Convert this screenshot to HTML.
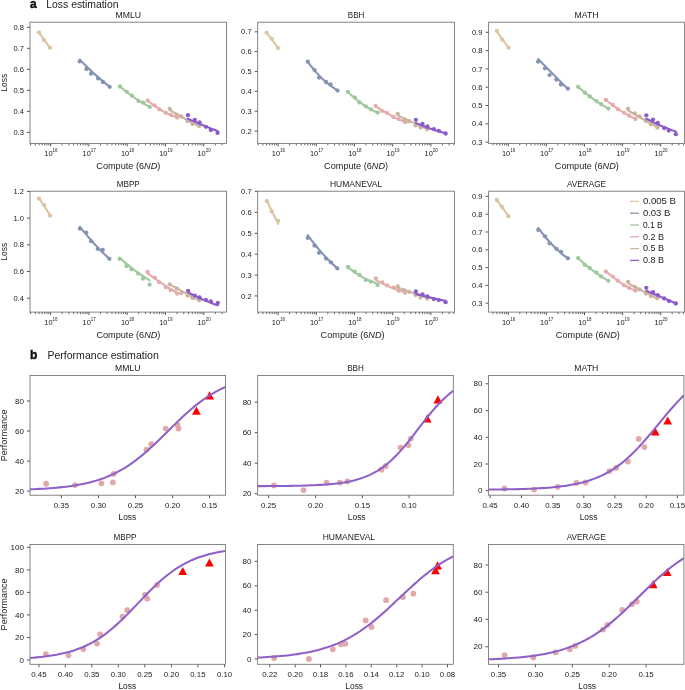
<!DOCTYPE html><html><head><meta charset="utf-8"><style>html,body{margin:0;padding:0;background:#fff;width:685px;height:690px;overflow:hidden}svg{display:block;will-change:transform;filter:blur(0.3px)}text{font-family:"Liberation Sans", sans-serif}</style></head><body>
<svg width="685" height="690" viewBox="0 0 685 690">
<rect width="685" height="690" fill="#fff"/>
<text x="29.9" y="8" font-size="12" text-anchor="start" font-weight="bold" font-style="normal" fill="#111" stroke="#111" stroke-width="0.45">a</text>
<text x="46.3" y="8" font-size="10.3" text-anchor="start" font-weight="normal" font-style="normal" fill="#222" textLength="72.2" lengthAdjust="spacingAndGlyphs">Loss estimation</text>
<text x="29.9" y="359" font-size="12" text-anchor="start" font-weight="bold" font-style="normal" fill="#111" stroke="#111" stroke-width="0.45">b</text>
<text x="47.4" y="359" font-size="10.3" text-anchor="start" font-weight="normal" font-style="normal" fill="#222" textLength="111.4" lengthAdjust="spacingAndGlyphs">Performance estimation</text>
<text x="128.25" y="17.8" font-size="9" text-anchor="middle" font-weight="normal" font-style="normal" fill="#222" textLength="25.4" lengthAdjust="spacingAndGlyphs">MMLU</text>
<line x1="27" y1="27.3" x2="30" y2="27.3" stroke="#444" stroke-width="0.9"/>
<text x="23.9" y="29.95" font-size="8.05" text-anchor="end" font-weight="normal" font-style="normal" fill="#222" textLength="10.49" lengthAdjust="spacingAndGlyphs">0.8</text>
<line x1="27" y1="48.3" x2="30" y2="48.3" stroke="#444" stroke-width="0.9"/>
<text x="23.9" y="50.95" font-size="8.05" text-anchor="end" font-weight="normal" font-style="normal" fill="#222" textLength="10.49" lengthAdjust="spacingAndGlyphs">0.7</text>
<line x1="27" y1="69.3" x2="30" y2="69.3" stroke="#444" stroke-width="0.9"/>
<text x="23.9" y="71.95" font-size="8.05" text-anchor="end" font-weight="normal" font-style="normal" fill="#222" textLength="10.49" lengthAdjust="spacingAndGlyphs">0.6</text>
<line x1="27" y1="90.3" x2="30" y2="90.3" stroke="#444" stroke-width="0.9"/>
<text x="23.9" y="92.95" font-size="8.05" text-anchor="end" font-weight="normal" font-style="normal" fill="#222" textLength="10.49" lengthAdjust="spacingAndGlyphs">0.5</text>
<line x1="27" y1="111.4" x2="30" y2="111.4" stroke="#444" stroke-width="0.9"/>
<text x="23.9" y="114.05" font-size="8.05" text-anchor="end" font-weight="normal" font-style="normal" fill="#222" textLength="10.49" lengthAdjust="spacingAndGlyphs">0.4</text>
<line x1="27" y1="132.4" x2="30" y2="132.4" stroke="#444" stroke-width="0.9"/>
<text x="23.9" y="135.05" font-size="8.05" text-anchor="end" font-weight="normal" font-style="normal" fill="#222" textLength="10.49" lengthAdjust="spacingAndGlyphs">0.3</text>
<line x1="30.57" y1="143.4" x2="30.57" y2="145.4" stroke="#444" stroke-width="0.85"/>
<line x1="35.36" y1="143.4" x2="35.36" y2="145.4" stroke="#444" stroke-width="0.85"/>
<line x1="39.07" y1="143.4" x2="39.07" y2="145.4" stroke="#444" stroke-width="0.85"/>
<line x1="42.1" y1="143.4" x2="42.1" y2="145.4" stroke="#444" stroke-width="0.85"/>
<line x1="44.67" y1="143.4" x2="44.67" y2="145.4" stroke="#444" stroke-width="0.85"/>
<line x1="46.89" y1="143.4" x2="46.89" y2="145.4" stroke="#444" stroke-width="0.85"/>
<line x1="48.85" y1="143.4" x2="48.85" y2="145.4" stroke="#444" stroke-width="0.85"/>
<line x1="50.6" y1="143.4" x2="50.6" y2="146.4" stroke="#444" stroke-width="0.9"/>
<text x="50.9" y="155.8" font-size="7.4" text-anchor="middle" fill="#222">10<tspan font-size="4.5" dy="-3.4">16</tspan></text>
<line x1="62.13" y1="143.4" x2="62.13" y2="145.4" stroke="#444" stroke-width="0.85"/>
<line x1="68.87" y1="143.4" x2="68.87" y2="145.4" stroke="#444" stroke-width="0.85"/>
<line x1="73.66" y1="143.4" x2="73.66" y2="145.4" stroke="#444" stroke-width="0.85"/>
<line x1="77.37" y1="143.4" x2="77.37" y2="145.4" stroke="#444" stroke-width="0.85"/>
<line x1="80.4" y1="143.4" x2="80.4" y2="145.4" stroke="#444" stroke-width="0.85"/>
<line x1="82.97" y1="143.4" x2="82.97" y2="145.4" stroke="#444" stroke-width="0.85"/>
<line x1="85.19" y1="143.4" x2="85.19" y2="145.4" stroke="#444" stroke-width="0.85"/>
<line x1="87.15" y1="143.4" x2="87.15" y2="145.4" stroke="#444" stroke-width="0.85"/>
<line x1="88.9" y1="143.4" x2="88.9" y2="146.4" stroke="#444" stroke-width="0.9"/>
<text x="89.2" y="155.8" font-size="7.4" text-anchor="middle" fill="#222">10<tspan font-size="4.5" dy="-3.4">17</tspan></text>
<line x1="100.43" y1="143.4" x2="100.43" y2="145.4" stroke="#444" stroke-width="0.85"/>
<line x1="107.17" y1="143.4" x2="107.17" y2="145.4" stroke="#444" stroke-width="0.85"/>
<line x1="111.96" y1="143.4" x2="111.96" y2="145.4" stroke="#444" stroke-width="0.85"/>
<line x1="115.67" y1="143.4" x2="115.67" y2="145.4" stroke="#444" stroke-width="0.85"/>
<line x1="118.7" y1="143.4" x2="118.7" y2="145.4" stroke="#444" stroke-width="0.85"/>
<line x1="121.27" y1="143.4" x2="121.27" y2="145.4" stroke="#444" stroke-width="0.85"/>
<line x1="123.49" y1="143.4" x2="123.49" y2="145.4" stroke="#444" stroke-width="0.85"/>
<line x1="125.45" y1="143.4" x2="125.45" y2="145.4" stroke="#444" stroke-width="0.85"/>
<line x1="127.2" y1="143.4" x2="127.2" y2="146.4" stroke="#444" stroke-width="0.9"/>
<text x="127.5" y="155.8" font-size="7.4" text-anchor="middle" fill="#222">10<tspan font-size="4.5" dy="-3.4">18</tspan></text>
<line x1="138.73" y1="143.4" x2="138.73" y2="145.4" stroke="#444" stroke-width="0.85"/>
<line x1="145.47" y1="143.4" x2="145.47" y2="145.4" stroke="#444" stroke-width="0.85"/>
<line x1="150.26" y1="143.4" x2="150.26" y2="145.4" stroke="#444" stroke-width="0.85"/>
<line x1="153.97" y1="143.4" x2="153.97" y2="145.4" stroke="#444" stroke-width="0.85"/>
<line x1="157" y1="143.4" x2="157" y2="145.4" stroke="#444" stroke-width="0.85"/>
<line x1="159.57" y1="143.4" x2="159.57" y2="145.4" stroke="#444" stroke-width="0.85"/>
<line x1="161.79" y1="143.4" x2="161.79" y2="145.4" stroke="#444" stroke-width="0.85"/>
<line x1="163.75" y1="143.4" x2="163.75" y2="145.4" stroke="#444" stroke-width="0.85"/>
<line x1="165.5" y1="143.4" x2="165.5" y2="146.4" stroke="#444" stroke-width="0.9"/>
<text x="165.8" y="155.8" font-size="7.4" text-anchor="middle" fill="#222">10<tspan font-size="4.5" dy="-3.4">19</tspan></text>
<line x1="177.03" y1="143.4" x2="177.03" y2="145.4" stroke="#444" stroke-width="0.85"/>
<line x1="183.77" y1="143.4" x2="183.77" y2="145.4" stroke="#444" stroke-width="0.85"/>
<line x1="188.56" y1="143.4" x2="188.56" y2="145.4" stroke="#444" stroke-width="0.85"/>
<line x1="192.27" y1="143.4" x2="192.27" y2="145.4" stroke="#444" stroke-width="0.85"/>
<line x1="195.3" y1="143.4" x2="195.3" y2="145.4" stroke="#444" stroke-width="0.85"/>
<line x1="197.87" y1="143.4" x2="197.87" y2="145.4" stroke="#444" stroke-width="0.85"/>
<line x1="200.09" y1="143.4" x2="200.09" y2="145.4" stroke="#444" stroke-width="0.85"/>
<line x1="202.05" y1="143.4" x2="202.05" y2="145.4" stroke="#444" stroke-width="0.85"/>
<line x1="203.8" y1="143.4" x2="203.8" y2="146.4" stroke="#444" stroke-width="0.9"/>
<text x="204.1" y="155.8" font-size="7.4" text-anchor="middle" fill="#222">10<tspan font-size="4.5" dy="-3.4">20</tspan></text>
<line x1="215.33" y1="143.4" x2="215.33" y2="145.4" stroke="#444" stroke-width="0.85"/>
<line x1="222.07" y1="143.4" x2="222.07" y2="145.4" stroke="#444" stroke-width="0.85"/>
<text x="128.3" y="168.8" font-size="9.2" text-anchor="middle" fill="#222" textLength="64" lengthAdjust="spacingAndGlyphs">Compute (6<tspan font-style="italic">ND</tspan>)</text>
<text transform="translate(7.3,82.8) rotate(-90)" font-size="9.2" text-anchor="middle" fill="#222" textLength="18" lengthAdjust="spacingAndGlyphs">Loss</text>
<path d="M38.9,32.57 L39.92,33.96 L40.94,35.36 L41.95,36.75 L42.97,38.15 L43.99,39.54 L45.01,40.94 L46.03,42.33 L47.05,43.73 L48.06,45.12 L49.08,46.52 L50.1,47.91" fill="none" stroke="#dcc4a2" stroke-width="2.1" stroke-linecap="round"/>
<circle cx="38.9" cy="32.3" r="2.15" fill="#dcc4a2"/>
<circle cx="43.9" cy="39.9" r="2.15" fill="#dcc4a2"/>
<circle cx="50.1" cy="47.7" r="2.15" fill="#dcc4a2"/>
<path d="M79.7,59.59 L82.43,62.38 L85.15,65.11 L87.88,67.78 L90.61,70.38 L93.34,72.92 L96.06,75.39 L98.79,77.8 L101.52,80.15 L104.25,82.43 L106.97,84.65 L109.7,86.8" fill="none" stroke="#8592b3" stroke-width="2.1" stroke-linecap="round"/>
<circle cx="79.7" cy="61.4" r="2.15" fill="#8592b3"/>
<circle cx="86.4" cy="69" r="2.15" fill="#8592b3"/>
<circle cx="91.1" cy="73.7" r="2.15" fill="#8592b3"/>
<circle cx="98.1" cy="78.4" r="2.15" fill="#8592b3"/>
<circle cx="102.9" cy="82" r="2.15" fill="#8592b3"/>
<circle cx="109.7" cy="86.8" r="2.15" fill="#8592b3"/>
<path d="M120,86.41 L122.7,88.7 L125.4,90.9 L128.1,93.01 L130.8,95.04 L133.5,96.98 L136.2,98.84 L138.9,100.61 L141.6,102.29 L144.3,103.88 L147,105.39 L149.7,106.82" fill="none" stroke="#9fc79d" stroke-width="2.1" stroke-linecap="round"/>
<circle cx="120" cy="86.5" r="2.15" fill="#9fc79d"/>
<circle cx="126.8" cy="91.8" r="2.15" fill="#9fc79d"/>
<circle cx="131.8" cy="95.7" r="2.15" fill="#9fc79d"/>
<circle cx="138.5" cy="101.1" r="2.15" fill="#9fc79d"/>
<circle cx="143.2" cy="102.7" r="2.15" fill="#9fc79d"/>
<circle cx="149.7" cy="106.9" r="2.15" fill="#9fc79d"/>
<path d="M147.7,100.58 L150.37,102.72 L153.05,104.75 L155.72,106.65 L158.39,108.43 L161.06,110.09 L163.74,111.63 L166.41,113.04 L169.08,114.33 L171.75,115.5 L174.43,116.55 L177.1,117.48" fill="none" stroke="#e5abad" stroke-width="2.1" stroke-linecap="round"/>
<circle cx="147.7" cy="100.7" r="2.15" fill="#e5abad"/>
<circle cx="154.4" cy="105.3" r="2.15" fill="#e5abad"/>
<circle cx="159.5" cy="109.4" r="2.15" fill="#e5abad"/>
<circle cx="165.7" cy="112.8" r="2.15" fill="#e5abad"/>
<circle cx="170.9" cy="115" r="2.15" fill="#e5abad"/>
<circle cx="177.1" cy="117.5" r="2.15" fill="#e5abad"/>
<path d="M169.8,110 L172.46,111.6 L175.13,113.18 L177.79,114.73 L180.45,116.26 L183.12,117.75 L185.78,119.23 L188.45,120.67 L191.11,122.09 L193.77,123.49 L196.44,124.86 L199.1,126.2" fill="none" stroke="#c9b59e" stroke-width="2.1" stroke-linecap="round"/>
<circle cx="169.8" cy="109" r="2.15" fill="#c9b59e"/>
<circle cx="176.6" cy="114.6" r="2.15" fill="#c9b59e"/>
<circle cx="181.2" cy="116.5" r="2.15" fill="#c9b59e"/>
<circle cx="187.6" cy="121.2" r="2.15" fill="#c9b59e"/>
<circle cx="192.5" cy="124.1" r="2.15" fill="#c9b59e"/>
<circle cx="199.1" cy="126.2" r="2.15" fill="#c9b59e"/>
<path d="M187.9,118.7 L190.6,119.92 L193.3,121.11 L196,122.29 L198.7,123.45 L201.4,124.58 L204.1,125.7 L206.8,126.8 L209.5,127.87 L212.2,128.93 L214.9,129.96 L217.6,130.98" fill="none" stroke="#8b5bc9" stroke-width="2.1" stroke-linecap="round"/>
<circle cx="187.9" cy="115.2" r="2.15" fill="#8b5bc9"/>
<circle cx="194.8" cy="120" r="2.15" fill="#8b5bc9"/>
<circle cx="199.5" cy="122.5" r="2.15" fill="#8b5bc9"/>
<circle cx="205.9" cy="126.8" r="2.15" fill="#8b5bc9"/>
<circle cx="210.8" cy="130" r="2.15" fill="#8b5bc9"/>
<circle cx="217.6" cy="132.9" r="2.15" fill="#8b5bc9"/>
<rect x="30" y="22.2" width="196.5" height="121.2" fill="none" stroke="#707070" stroke-width="0.85"/>
<text x="356.1" y="17.8" font-size="9" text-anchor="middle" font-weight="normal" font-style="normal" fill="#222" textLength="16.7" lengthAdjust="spacingAndGlyphs">BBH</text>
<line x1="254.7" y1="31.8" x2="257.7" y2="31.8" stroke="#444" stroke-width="0.9"/>
<text x="251.6" y="34.45" font-size="8.05" text-anchor="end" font-weight="normal" font-style="normal" fill="#222" textLength="10.49" lengthAdjust="spacingAndGlyphs">0.7</text>
<line x1="254.7" y1="51.6" x2="257.7" y2="51.6" stroke="#444" stroke-width="0.9"/>
<text x="251.6" y="54.25" font-size="8.05" text-anchor="end" font-weight="normal" font-style="normal" fill="#222" textLength="10.49" lengthAdjust="spacingAndGlyphs">0.6</text>
<line x1="254.7" y1="71.4" x2="257.7" y2="71.4" stroke="#444" stroke-width="0.9"/>
<text x="251.6" y="74.05" font-size="8.05" text-anchor="end" font-weight="normal" font-style="normal" fill="#222" textLength="10.49" lengthAdjust="spacingAndGlyphs">0.5</text>
<line x1="254.7" y1="91.3" x2="257.7" y2="91.3" stroke="#444" stroke-width="0.9"/>
<text x="251.6" y="93.95" font-size="8.05" text-anchor="end" font-weight="normal" font-style="normal" fill="#222" textLength="10.49" lengthAdjust="spacingAndGlyphs">0.4</text>
<line x1="254.7" y1="111.2" x2="257.7" y2="111.2" stroke="#444" stroke-width="0.9"/>
<text x="251.6" y="113.85" font-size="8.05" text-anchor="end" font-weight="normal" font-style="normal" fill="#222" textLength="10.49" lengthAdjust="spacingAndGlyphs">0.3</text>
<line x1="254.7" y1="131.1" x2="257.7" y2="131.1" stroke="#444" stroke-width="0.9"/>
<text x="251.6" y="133.75" font-size="8.05" text-anchor="end" font-weight="normal" font-style="normal" fill="#222" textLength="10.49" lengthAdjust="spacingAndGlyphs">0.2</text>
<line x1="258.13" y1="143.4" x2="258.13" y2="145.4" stroke="#444" stroke-width="0.85"/>
<line x1="262.9" y1="143.4" x2="262.9" y2="145.4" stroke="#444" stroke-width="0.85"/>
<line x1="266.6" y1="143.4" x2="266.6" y2="145.4" stroke="#444" stroke-width="0.85"/>
<line x1="269.63" y1="143.4" x2="269.63" y2="145.4" stroke="#444" stroke-width="0.85"/>
<line x1="272.18" y1="143.4" x2="272.18" y2="145.4" stroke="#444" stroke-width="0.85"/>
<line x1="274.4" y1="143.4" x2="274.4" y2="145.4" stroke="#444" stroke-width="0.85"/>
<line x1="276.35" y1="143.4" x2="276.35" y2="145.4" stroke="#444" stroke-width="0.85"/>
<line x1="278.1" y1="143.4" x2="278.1" y2="146.4" stroke="#444" stroke-width="0.9"/>
<text x="278.4" y="155.8" font-size="7.4" text-anchor="middle" fill="#222">10<tspan font-size="4.5" dy="-3.4">16</tspan></text>
<line x1="289.6" y1="143.4" x2="289.6" y2="145.4" stroke="#444" stroke-width="0.85"/>
<line x1="296.33" y1="143.4" x2="296.33" y2="145.4" stroke="#444" stroke-width="0.85"/>
<line x1="301.1" y1="143.4" x2="301.1" y2="145.4" stroke="#444" stroke-width="0.85"/>
<line x1="304.8" y1="143.4" x2="304.8" y2="145.4" stroke="#444" stroke-width="0.85"/>
<line x1="307.83" y1="143.4" x2="307.83" y2="145.4" stroke="#444" stroke-width="0.85"/>
<line x1="310.38" y1="143.4" x2="310.38" y2="145.4" stroke="#444" stroke-width="0.85"/>
<line x1="312.6" y1="143.4" x2="312.6" y2="145.4" stroke="#444" stroke-width="0.85"/>
<line x1="314.55" y1="143.4" x2="314.55" y2="145.4" stroke="#444" stroke-width="0.85"/>
<line x1="316.3" y1="143.4" x2="316.3" y2="146.4" stroke="#444" stroke-width="0.9"/>
<text x="316.6" y="155.8" font-size="7.4" text-anchor="middle" fill="#222">10<tspan font-size="4.5" dy="-3.4">17</tspan></text>
<line x1="327.8" y1="143.4" x2="327.8" y2="145.4" stroke="#444" stroke-width="0.85"/>
<line x1="334.53" y1="143.4" x2="334.53" y2="145.4" stroke="#444" stroke-width="0.85"/>
<line x1="339.3" y1="143.4" x2="339.3" y2="145.4" stroke="#444" stroke-width="0.85"/>
<line x1="343" y1="143.4" x2="343" y2="145.4" stroke="#444" stroke-width="0.85"/>
<line x1="346.03" y1="143.4" x2="346.03" y2="145.4" stroke="#444" stroke-width="0.85"/>
<line x1="348.58" y1="143.4" x2="348.58" y2="145.4" stroke="#444" stroke-width="0.85"/>
<line x1="350.8" y1="143.4" x2="350.8" y2="145.4" stroke="#444" stroke-width="0.85"/>
<line x1="352.75" y1="143.4" x2="352.75" y2="145.4" stroke="#444" stroke-width="0.85"/>
<line x1="354.5" y1="143.4" x2="354.5" y2="146.4" stroke="#444" stroke-width="0.9"/>
<text x="354.8" y="155.8" font-size="7.4" text-anchor="middle" fill="#222">10<tspan font-size="4.5" dy="-3.4">18</tspan></text>
<line x1="366" y1="143.4" x2="366" y2="145.4" stroke="#444" stroke-width="0.85"/>
<line x1="372.73" y1="143.4" x2="372.73" y2="145.4" stroke="#444" stroke-width="0.85"/>
<line x1="377.5" y1="143.4" x2="377.5" y2="145.4" stroke="#444" stroke-width="0.85"/>
<line x1="381.2" y1="143.4" x2="381.2" y2="145.4" stroke="#444" stroke-width="0.85"/>
<line x1="384.23" y1="143.4" x2="384.23" y2="145.4" stroke="#444" stroke-width="0.85"/>
<line x1="386.78" y1="143.4" x2="386.78" y2="145.4" stroke="#444" stroke-width="0.85"/>
<line x1="389" y1="143.4" x2="389" y2="145.4" stroke="#444" stroke-width="0.85"/>
<line x1="390.95" y1="143.4" x2="390.95" y2="145.4" stroke="#444" stroke-width="0.85"/>
<line x1="392.7" y1="143.4" x2="392.7" y2="146.4" stroke="#444" stroke-width="0.9"/>
<text x="393" y="155.8" font-size="7.4" text-anchor="middle" fill="#222">10<tspan font-size="4.5" dy="-3.4">19</tspan></text>
<line x1="404.2" y1="143.4" x2="404.2" y2="145.4" stroke="#444" stroke-width="0.85"/>
<line x1="410.93" y1="143.4" x2="410.93" y2="145.4" stroke="#444" stroke-width="0.85"/>
<line x1="415.7" y1="143.4" x2="415.7" y2="145.4" stroke="#444" stroke-width="0.85"/>
<line x1="419.4" y1="143.4" x2="419.4" y2="145.4" stroke="#444" stroke-width="0.85"/>
<line x1="422.43" y1="143.4" x2="422.43" y2="145.4" stroke="#444" stroke-width="0.85"/>
<line x1="424.98" y1="143.4" x2="424.98" y2="145.4" stroke="#444" stroke-width="0.85"/>
<line x1="427.2" y1="143.4" x2="427.2" y2="145.4" stroke="#444" stroke-width="0.85"/>
<line x1="429.15" y1="143.4" x2="429.15" y2="145.4" stroke="#444" stroke-width="0.85"/>
<line x1="430.9" y1="143.4" x2="430.9" y2="146.4" stroke="#444" stroke-width="0.9"/>
<text x="431.2" y="155.8" font-size="7.4" text-anchor="middle" fill="#222">10<tspan font-size="4.5" dy="-3.4">20</tspan></text>
<line x1="442.4" y1="143.4" x2="442.4" y2="145.4" stroke="#444" stroke-width="0.85"/>
<line x1="449.13" y1="143.4" x2="449.13" y2="145.4" stroke="#444" stroke-width="0.85"/>
<line x1="453.9" y1="143.4" x2="453.9" y2="145.4" stroke="#444" stroke-width="0.85"/>
<text x="356.1" y="168.8" font-size="9.2" text-anchor="middle" fill="#222" textLength="64" lengthAdjust="spacingAndGlyphs">Compute (6<tspan font-style="italic">ND</tspan>)</text>
<path d="M266.6,32.37 L267.64,33.78 L268.67,35.18 L269.71,36.59 L270.75,38 L271.78,39.4 L272.82,40.81 L273.85,42.21 L274.89,43.62 L275.93,45.02 L276.96,46.43 L278,47.84" fill="none" stroke="#dcc4a2" stroke-width="2.1" stroke-linecap="round"/>
<circle cx="266.6" cy="32.7" r="2.15" fill="#dcc4a2"/>
<circle cx="271.7" cy="38.7" r="2.15" fill="#dcc4a2"/>
<circle cx="278" cy="48.1" r="2.15" fill="#dcc4a2"/>
<path d="M307.8,61.78 L310.5,65.35 L313.2,68.72 L315.9,71.89 L318.6,74.87 L321.3,77.65 L324,80.24 L326.7,82.64 L329.4,84.83 L332.1,86.84 L334.8,88.64 L337.5,90.26" fill="none" stroke="#8592b3" stroke-width="2.1" stroke-linecap="round"/>
<circle cx="307.8" cy="61.7" r="2.15" fill="#8592b3"/>
<circle cx="314.6" cy="70.1" r="2.15" fill="#8592b3"/>
<circle cx="319.1" cy="77.5" r="2.15" fill="#8592b3"/>
<circle cx="326" cy="82" r="2.15" fill="#8592b3"/>
<circle cx="330.6" cy="84.5" r="2.15" fill="#8592b3"/>
<circle cx="337.5" cy="90.6" r="2.15" fill="#8592b3"/>
<path d="M347.9,91.79 L350.61,94.41 L353.32,96.89 L356.03,99.22 L358.74,101.4 L361.45,103.44 L364.15,105.33 L366.86,107.07 L369.57,108.67 L372.28,110.12 L374.99,111.43 L377.7,112.59" fill="none" stroke="#9fc79d" stroke-width="2.1" stroke-linecap="round"/>
<circle cx="347.9" cy="91.9" r="2.15" fill="#9fc79d"/>
<circle cx="354.9" cy="97.7" r="2.15" fill="#9fc79d"/>
<circle cx="359.3" cy="102.4" r="2.15" fill="#9fc79d"/>
<circle cx="365.9" cy="106.4" r="2.15" fill="#9fc79d"/>
<circle cx="371" cy="109.4" r="2.15" fill="#9fc79d"/>
<circle cx="377.7" cy="112.6" r="2.15" fill="#9fc79d"/>
<path d="M375.6,106.06 L378.29,107.89 L380.98,109.64 L383.67,111.32 L386.36,112.93 L389.05,114.46 L391.75,115.92 L394.44,117.3 L397.13,118.61 L399.82,119.85 L402.51,121.01 L405.2,122.1" fill="none" stroke="#e5abad" stroke-width="2.1" stroke-linecap="round"/>
<circle cx="375.6" cy="105.9" r="2.15" fill="#e5abad"/>
<circle cx="382" cy="110.8" r="2.15" fill="#e5abad"/>
<circle cx="387" cy="112.9" r="2.15" fill="#e5abad"/>
<circle cx="393.4" cy="117" r="2.15" fill="#e5abad"/>
<circle cx="398.7" cy="119.1" r="2.15" fill="#e5abad"/>
<circle cx="405.2" cy="122.2" r="2.15" fill="#e5abad"/>
<path d="M397.8,115.4 L400.46,116.65 L403.13,117.9 L405.79,119.14 L408.45,120.39 L411.12,121.64 L413.78,122.89 L416.45,124.13 L419.11,125.38 L421.77,126.63 L424.44,127.88 L427.1,129.13" fill="none" stroke="#c9b59e" stroke-width="2.1" stroke-linecap="round"/>
<circle cx="397.8" cy="114" r="2.15" fill="#c9b59e"/>
<circle cx="404.6" cy="119.3" r="2.15" fill="#c9b59e"/>
<circle cx="409.2" cy="121.2" r="2.15" fill="#c9b59e"/>
<circle cx="415.5" cy="125.4" r="2.15" fill="#c9b59e"/>
<circle cx="420.5" cy="127.5" r="2.15" fill="#c9b59e"/>
<circle cx="427.1" cy="129.3" r="2.15" fill="#c9b59e"/>
<path d="M415.9,122.9 L418.6,124.09 L421.3,125.24 L424,126.33 L426.7,127.36 L429.4,128.35 L432.1,129.28 L434.8,130.16 L437.5,130.99 L440.2,131.76 L442.9,132.49 L445.6,133.16" fill="none" stroke="#8b5bc9" stroke-width="2.1" stroke-linecap="round"/>
<circle cx="415.9" cy="119.8" r="2.15" fill="#8b5bc9"/>
<circle cx="422.5" cy="124" r="2.15" fill="#8b5bc9"/>
<circle cx="427.3" cy="126.5" r="2.15" fill="#8b5bc9"/>
<circle cx="433.9" cy="129.1" r="2.15" fill="#8b5bc9"/>
<circle cx="438.8" cy="130.8" r="2.15" fill="#8b5bc9"/>
<circle cx="445.6" cy="133.5" r="2.15" fill="#8b5bc9"/>
<rect x="257.7" y="22.2" width="196.8" height="121.2" fill="none" stroke="#707070" stroke-width="0.85"/>
<text x="586.5" y="17.8" font-size="9" text-anchor="middle" font-weight="normal" font-style="normal" fill="#222" textLength="24" lengthAdjust="spacingAndGlyphs">MATH</text>
<line x1="485.6" y1="32.3" x2="488.6" y2="32.3" stroke="#444" stroke-width="0.9"/>
<text x="482.5" y="34.95" font-size="8.05" text-anchor="end" font-weight="normal" font-style="normal" fill="#222" textLength="10.49" lengthAdjust="spacingAndGlyphs">0.9</text>
<line x1="485.6" y1="50.6" x2="488.6" y2="50.6" stroke="#444" stroke-width="0.9"/>
<text x="482.5" y="53.25" font-size="8.05" text-anchor="end" font-weight="normal" font-style="normal" fill="#222" textLength="10.49" lengthAdjust="spacingAndGlyphs">0.8</text>
<line x1="485.6" y1="68.9" x2="488.6" y2="68.9" stroke="#444" stroke-width="0.9"/>
<text x="482.5" y="71.55" font-size="8.05" text-anchor="end" font-weight="normal" font-style="normal" fill="#222" textLength="10.49" lengthAdjust="spacingAndGlyphs">0.7</text>
<line x1="485.6" y1="87.2" x2="488.6" y2="87.2" stroke="#444" stroke-width="0.9"/>
<text x="482.5" y="89.85" font-size="8.05" text-anchor="end" font-weight="normal" font-style="normal" fill="#222" textLength="10.49" lengthAdjust="spacingAndGlyphs">0.6</text>
<line x1="485.6" y1="105.5" x2="488.6" y2="105.5" stroke="#444" stroke-width="0.9"/>
<text x="482.5" y="108.15" font-size="8.05" text-anchor="end" font-weight="normal" font-style="normal" fill="#222" textLength="10.49" lengthAdjust="spacingAndGlyphs">0.5</text>
<line x1="485.6" y1="123.8" x2="488.6" y2="123.8" stroke="#444" stroke-width="0.9"/>
<text x="482.5" y="126.45" font-size="8.05" text-anchor="end" font-weight="normal" font-style="normal" fill="#222" textLength="10.49" lengthAdjust="spacingAndGlyphs">0.4</text>
<line x1="485.6" y1="142.1" x2="488.6" y2="142.1" stroke="#444" stroke-width="0.9"/>
<text x="482.5" y="144.75" font-size="8.05" text-anchor="end" font-weight="normal" font-style="normal" fill="#222" textLength="10.49" lengthAdjust="spacingAndGlyphs">0.3</text>
<line x1="493.14" y1="143.4" x2="493.14" y2="145.4" stroke="#444" stroke-width="0.85"/>
<line x1="496.83" y1="143.4" x2="496.83" y2="145.4" stroke="#444" stroke-width="0.85"/>
<line x1="499.85" y1="143.4" x2="499.85" y2="145.4" stroke="#444" stroke-width="0.85"/>
<line x1="502.4" y1="143.4" x2="502.4" y2="145.4" stroke="#444" stroke-width="0.85"/>
<line x1="504.61" y1="143.4" x2="504.61" y2="145.4" stroke="#444" stroke-width="0.85"/>
<line x1="506.56" y1="143.4" x2="506.56" y2="145.4" stroke="#444" stroke-width="0.85"/>
<line x1="508.3" y1="143.4" x2="508.3" y2="146.4" stroke="#444" stroke-width="0.9"/>
<text x="508.6" y="155.8" font-size="7.4" text-anchor="middle" fill="#222">10<tspan font-size="4.5" dy="-3.4">16</tspan></text>
<line x1="519.77" y1="143.4" x2="519.77" y2="145.4" stroke="#444" stroke-width="0.85"/>
<line x1="526.48" y1="143.4" x2="526.48" y2="145.4" stroke="#444" stroke-width="0.85"/>
<line x1="531.24" y1="143.4" x2="531.24" y2="145.4" stroke="#444" stroke-width="0.85"/>
<line x1="534.93" y1="143.4" x2="534.93" y2="145.4" stroke="#444" stroke-width="0.85"/>
<line x1="537.95" y1="143.4" x2="537.95" y2="145.4" stroke="#444" stroke-width="0.85"/>
<line x1="540.5" y1="143.4" x2="540.5" y2="145.4" stroke="#444" stroke-width="0.85"/>
<line x1="542.71" y1="143.4" x2="542.71" y2="145.4" stroke="#444" stroke-width="0.85"/>
<line x1="544.66" y1="143.4" x2="544.66" y2="145.4" stroke="#444" stroke-width="0.85"/>
<line x1="546.4" y1="143.4" x2="546.4" y2="146.4" stroke="#444" stroke-width="0.9"/>
<text x="546.7" y="155.8" font-size="7.4" text-anchor="middle" fill="#222">10<tspan font-size="4.5" dy="-3.4">17</tspan></text>
<line x1="557.87" y1="143.4" x2="557.87" y2="145.4" stroke="#444" stroke-width="0.85"/>
<line x1="564.58" y1="143.4" x2="564.58" y2="145.4" stroke="#444" stroke-width="0.85"/>
<line x1="569.34" y1="143.4" x2="569.34" y2="145.4" stroke="#444" stroke-width="0.85"/>
<line x1="573.03" y1="143.4" x2="573.03" y2="145.4" stroke="#444" stroke-width="0.85"/>
<line x1="576.05" y1="143.4" x2="576.05" y2="145.4" stroke="#444" stroke-width="0.85"/>
<line x1="578.6" y1="143.4" x2="578.6" y2="145.4" stroke="#444" stroke-width="0.85"/>
<line x1="580.81" y1="143.4" x2="580.81" y2="145.4" stroke="#444" stroke-width="0.85"/>
<line x1="582.76" y1="143.4" x2="582.76" y2="145.4" stroke="#444" stroke-width="0.85"/>
<line x1="584.5" y1="143.4" x2="584.5" y2="146.4" stroke="#444" stroke-width="0.9"/>
<text x="584.8" y="155.8" font-size="7.4" text-anchor="middle" fill="#222">10<tspan font-size="4.5" dy="-3.4">18</tspan></text>
<line x1="595.97" y1="143.4" x2="595.97" y2="145.4" stroke="#444" stroke-width="0.85"/>
<line x1="602.68" y1="143.4" x2="602.68" y2="145.4" stroke="#444" stroke-width="0.85"/>
<line x1="607.44" y1="143.4" x2="607.44" y2="145.4" stroke="#444" stroke-width="0.85"/>
<line x1="611.13" y1="143.4" x2="611.13" y2="145.4" stroke="#444" stroke-width="0.85"/>
<line x1="614.15" y1="143.4" x2="614.15" y2="145.4" stroke="#444" stroke-width="0.85"/>
<line x1="616.7" y1="143.4" x2="616.7" y2="145.4" stroke="#444" stroke-width="0.85"/>
<line x1="618.91" y1="143.4" x2="618.91" y2="145.4" stroke="#444" stroke-width="0.85"/>
<line x1="620.86" y1="143.4" x2="620.86" y2="145.4" stroke="#444" stroke-width="0.85"/>
<line x1="622.6" y1="143.4" x2="622.6" y2="146.4" stroke="#444" stroke-width="0.9"/>
<text x="622.9" y="155.8" font-size="7.4" text-anchor="middle" fill="#222">10<tspan font-size="4.5" dy="-3.4">19</tspan></text>
<line x1="634.07" y1="143.4" x2="634.07" y2="145.4" stroke="#444" stroke-width="0.85"/>
<line x1="640.78" y1="143.4" x2="640.78" y2="145.4" stroke="#444" stroke-width="0.85"/>
<line x1="645.54" y1="143.4" x2="645.54" y2="145.4" stroke="#444" stroke-width="0.85"/>
<line x1="649.23" y1="143.4" x2="649.23" y2="145.4" stroke="#444" stroke-width="0.85"/>
<line x1="652.25" y1="143.4" x2="652.25" y2="145.4" stroke="#444" stroke-width="0.85"/>
<line x1="654.8" y1="143.4" x2="654.8" y2="145.4" stroke="#444" stroke-width="0.85"/>
<line x1="657.01" y1="143.4" x2="657.01" y2="145.4" stroke="#444" stroke-width="0.85"/>
<line x1="658.96" y1="143.4" x2="658.96" y2="145.4" stroke="#444" stroke-width="0.85"/>
<line x1="660.7" y1="143.4" x2="660.7" y2="146.4" stroke="#444" stroke-width="0.9"/>
<text x="661" y="155.8" font-size="7.4" text-anchor="middle" fill="#222">10<tspan font-size="4.5" dy="-3.4">20</tspan></text>
<line x1="672.17" y1="143.4" x2="672.17" y2="145.4" stroke="#444" stroke-width="0.85"/>
<line x1="678.88" y1="143.4" x2="678.88" y2="145.4" stroke="#444" stroke-width="0.85"/>
<line x1="683.64" y1="143.4" x2="683.64" y2="145.4" stroke="#444" stroke-width="0.85"/>
<text x="586.8" y="168.8" font-size="9.2" text-anchor="middle" fill="#222" textLength="64" lengthAdjust="spacingAndGlyphs">Compute (6<tspan font-style="italic">ND</tspan>)</text>
<path d="M496.8,31.32 L497.87,32.84 L498.95,34.36 L500.02,35.88 L501.09,37.4 L502.16,38.92 L503.24,40.44 L504.31,41.96 L505.38,43.48 L506.45,45 L507.53,46.52 L508.6,48.04" fill="none" stroke="#dcc4a2" stroke-width="2.1" stroke-linecap="round"/>
<circle cx="496.8" cy="30.9" r="2.15" fill="#dcc4a2"/>
<circle cx="502.1" cy="39.6" r="2.15" fill="#dcc4a2"/>
<circle cx="508.6" cy="47.7" r="2.15" fill="#dcc4a2"/>
<path d="M538.1,59 L540.81,61.8 L543.52,64.58 L546.23,67.34 L548.94,70.1 L551.65,72.84 L554.35,75.57 L557.06,78.28 L559.77,80.98 L562.48,83.67 L565.19,86.34 L567.9,89" fill="none" stroke="#8592b3" stroke-width="2.1" stroke-linecap="round"/>
<circle cx="538.1" cy="61.7" r="2.15" fill="#8592b3"/>
<circle cx="545" cy="68.3" r="2.15" fill="#8592b3"/>
<circle cx="549.6" cy="75.1" r="2.15" fill="#8592b3"/>
<circle cx="556.4" cy="79.5" r="2.15" fill="#8592b3"/>
<circle cx="560.9" cy="84.5" r="2.15" fill="#8592b3"/>
<circle cx="567.9" cy="88.6" r="2.15" fill="#8592b3"/>
<path d="M578.1,86.91 L580.85,89.27 L583.59,91.55 L586.34,93.75 L589.08,95.87 L591.83,97.92 L594.57,99.88 L597.32,101.76 L600.06,103.57 L602.81,105.29 L605.55,106.94 L608.3,108.51" fill="none" stroke="#9fc79d" stroke-width="2.1" stroke-linecap="round"/>
<circle cx="578.1" cy="86.8" r="2.15" fill="#9fc79d"/>
<circle cx="584.8" cy="92.7" r="2.15" fill="#9fc79d"/>
<circle cx="589.8" cy="96.5" r="2.15" fill="#9fc79d"/>
<circle cx="596.5" cy="101.1" r="2.15" fill="#9fc79d"/>
<circle cx="601.1" cy="104.1" r="2.15" fill="#9fc79d"/>
<circle cx="608.3" cy="108.6" r="2.15" fill="#9fc79d"/>
<path d="M605.8,99.81 L608.5,101.97 L611.2,104.05 L613.9,106.05 L616.6,107.96 L619.3,109.79 L622,111.54 L624.7,113.2 L627.4,114.77 L630.1,116.27 L632.8,117.68 L635.5,119" fill="none" stroke="#e5abad" stroke-width="2.1" stroke-linecap="round"/>
<circle cx="605.8" cy="99.9" r="2.15" fill="#e5abad"/>
<circle cx="612.8" cy="104.9" r="2.15" fill="#e5abad"/>
<circle cx="617.8" cy="109.1" r="2.15" fill="#e5abad"/>
<circle cx="624.1" cy="112.8" r="2.15" fill="#e5abad"/>
<circle cx="629.1" cy="115.7" r="2.15" fill="#e5abad"/>
<circle cx="635.5" cy="119" r="2.15" fill="#e5abad"/>
<path d="M628,110.35 L630.66,111.99 L633.33,113.6 L635.99,115.18 L638.65,116.73 L641.32,118.25 L643.98,119.75 L646.65,121.22 L649.31,122.65 L651.97,124.06 L654.64,125.45 L657.3,126.8" fill="none" stroke="#c9b59e" stroke-width="2.1" stroke-linecap="round"/>
<circle cx="628" cy="108.8" r="2.15" fill="#c9b59e"/>
<circle cx="634.8" cy="113.4" r="2.15" fill="#c9b59e"/>
<circle cx="639.5" cy="116.3" r="2.15" fill="#c9b59e"/>
<circle cx="645.9" cy="120.9" r="2.15" fill="#c9b59e"/>
<circle cx="650.9" cy="124.2" r="2.15" fill="#c9b59e"/>
<circle cx="657.3" cy="127.5" r="2.15" fill="#c9b59e"/>
<path d="M646.3,118.61 L648.98,120.02 L651.66,121.38 L654.35,122.7 L657.03,123.97 L659.71,125.19 L662.39,126.37 L665.07,127.5 L667.75,128.59 L670.44,129.62 L673.12,130.62 L675.8,131.56" fill="none" stroke="#8b5bc9" stroke-width="2.1" stroke-linecap="round"/>
<circle cx="646.3" cy="115.3" r="2.15" fill="#8b5bc9"/>
<circle cx="653" cy="119.6" r="2.15" fill="#8b5bc9"/>
<circle cx="657.8" cy="123" r="2.15" fill="#8b5bc9"/>
<circle cx="664.2" cy="128" r="2.15" fill="#8b5bc9"/>
<circle cx="668.8" cy="130.5" r="2.15" fill="#8b5bc9"/>
<circle cx="675.8" cy="134.2" r="2.15" fill="#8b5bc9"/>
<rect x="488.6" y="22.2" width="195.8" height="121.2" fill="none" stroke="#707070" stroke-width="0.85"/>
<text x="128.25" y="186.8" font-size="9" text-anchor="middle" font-weight="normal" font-style="normal" fill="#222" textLength="23" lengthAdjust="spacingAndGlyphs">MBPP</text>
<line x1="27" y1="191.4" x2="30" y2="191.4" stroke="#444" stroke-width="0.9"/>
<text x="23.9" y="194.05" font-size="8.05" text-anchor="end" font-weight="normal" font-style="normal" fill="#222" textLength="10.49" lengthAdjust="spacingAndGlyphs">1.2</text>
<line x1="27" y1="218.1" x2="30" y2="218.1" stroke="#444" stroke-width="0.9"/>
<text x="23.9" y="220.75" font-size="8.05" text-anchor="end" font-weight="normal" font-style="normal" fill="#222" textLength="10.49" lengthAdjust="spacingAndGlyphs">1.0</text>
<line x1="27" y1="244.8" x2="30" y2="244.8" stroke="#444" stroke-width="0.9"/>
<text x="23.9" y="247.45" font-size="8.05" text-anchor="end" font-weight="normal" font-style="normal" fill="#222" textLength="10.49" lengthAdjust="spacingAndGlyphs">0.8</text>
<line x1="27" y1="271.5" x2="30" y2="271.5" stroke="#444" stroke-width="0.9"/>
<text x="23.9" y="274.15" font-size="8.05" text-anchor="end" font-weight="normal" font-style="normal" fill="#222" textLength="10.49" lengthAdjust="spacingAndGlyphs">0.6</text>
<line x1="27" y1="298.2" x2="30" y2="298.2" stroke="#444" stroke-width="0.9"/>
<text x="23.9" y="300.85" font-size="8.05" text-anchor="end" font-weight="normal" font-style="normal" fill="#222" textLength="10.49" lengthAdjust="spacingAndGlyphs">0.4</text>
<line x1="30.57" y1="312.1" x2="30.57" y2="314.1" stroke="#444" stroke-width="0.85"/>
<line x1="35.36" y1="312.1" x2="35.36" y2="314.1" stroke="#444" stroke-width="0.85"/>
<line x1="39.07" y1="312.1" x2="39.07" y2="314.1" stroke="#444" stroke-width="0.85"/>
<line x1="42.1" y1="312.1" x2="42.1" y2="314.1" stroke="#444" stroke-width="0.85"/>
<line x1="44.67" y1="312.1" x2="44.67" y2="314.1" stroke="#444" stroke-width="0.85"/>
<line x1="46.89" y1="312.1" x2="46.89" y2="314.1" stroke="#444" stroke-width="0.85"/>
<line x1="48.85" y1="312.1" x2="48.85" y2="314.1" stroke="#444" stroke-width="0.85"/>
<line x1="50.6" y1="312.1" x2="50.6" y2="315.1" stroke="#444" stroke-width="0.9"/>
<text x="50.9" y="324.5" font-size="7.4" text-anchor="middle" fill="#222">10<tspan font-size="4.5" dy="-3.4">16</tspan></text>
<line x1="62.13" y1="312.1" x2="62.13" y2="314.1" stroke="#444" stroke-width="0.85"/>
<line x1="68.87" y1="312.1" x2="68.87" y2="314.1" stroke="#444" stroke-width="0.85"/>
<line x1="73.66" y1="312.1" x2="73.66" y2="314.1" stroke="#444" stroke-width="0.85"/>
<line x1="77.37" y1="312.1" x2="77.37" y2="314.1" stroke="#444" stroke-width="0.85"/>
<line x1="80.4" y1="312.1" x2="80.4" y2="314.1" stroke="#444" stroke-width="0.85"/>
<line x1="82.97" y1="312.1" x2="82.97" y2="314.1" stroke="#444" stroke-width="0.85"/>
<line x1="85.19" y1="312.1" x2="85.19" y2="314.1" stroke="#444" stroke-width="0.85"/>
<line x1="87.15" y1="312.1" x2="87.15" y2="314.1" stroke="#444" stroke-width="0.85"/>
<line x1="88.9" y1="312.1" x2="88.9" y2="315.1" stroke="#444" stroke-width="0.9"/>
<text x="89.2" y="324.5" font-size="7.4" text-anchor="middle" fill="#222">10<tspan font-size="4.5" dy="-3.4">17</tspan></text>
<line x1="100.43" y1="312.1" x2="100.43" y2="314.1" stroke="#444" stroke-width="0.85"/>
<line x1="107.17" y1="312.1" x2="107.17" y2="314.1" stroke="#444" stroke-width="0.85"/>
<line x1="111.96" y1="312.1" x2="111.96" y2="314.1" stroke="#444" stroke-width="0.85"/>
<line x1="115.67" y1="312.1" x2="115.67" y2="314.1" stroke="#444" stroke-width="0.85"/>
<line x1="118.7" y1="312.1" x2="118.7" y2="314.1" stroke="#444" stroke-width="0.85"/>
<line x1="121.27" y1="312.1" x2="121.27" y2="314.1" stroke="#444" stroke-width="0.85"/>
<line x1="123.49" y1="312.1" x2="123.49" y2="314.1" stroke="#444" stroke-width="0.85"/>
<line x1="125.45" y1="312.1" x2="125.45" y2="314.1" stroke="#444" stroke-width="0.85"/>
<line x1="127.2" y1="312.1" x2="127.2" y2="315.1" stroke="#444" stroke-width="0.9"/>
<text x="127.5" y="324.5" font-size="7.4" text-anchor="middle" fill="#222">10<tspan font-size="4.5" dy="-3.4">18</tspan></text>
<line x1="138.73" y1="312.1" x2="138.73" y2="314.1" stroke="#444" stroke-width="0.85"/>
<line x1="145.47" y1="312.1" x2="145.47" y2="314.1" stroke="#444" stroke-width="0.85"/>
<line x1="150.26" y1="312.1" x2="150.26" y2="314.1" stroke="#444" stroke-width="0.85"/>
<line x1="153.97" y1="312.1" x2="153.97" y2="314.1" stroke="#444" stroke-width="0.85"/>
<line x1="157" y1="312.1" x2="157" y2="314.1" stroke="#444" stroke-width="0.85"/>
<line x1="159.57" y1="312.1" x2="159.57" y2="314.1" stroke="#444" stroke-width="0.85"/>
<line x1="161.79" y1="312.1" x2="161.79" y2="314.1" stroke="#444" stroke-width="0.85"/>
<line x1="163.75" y1="312.1" x2="163.75" y2="314.1" stroke="#444" stroke-width="0.85"/>
<line x1="165.5" y1="312.1" x2="165.5" y2="315.1" stroke="#444" stroke-width="0.9"/>
<text x="165.8" y="324.5" font-size="7.4" text-anchor="middle" fill="#222">10<tspan font-size="4.5" dy="-3.4">19</tspan></text>
<line x1="177.03" y1="312.1" x2="177.03" y2="314.1" stroke="#444" stroke-width="0.85"/>
<line x1="183.77" y1="312.1" x2="183.77" y2="314.1" stroke="#444" stroke-width="0.85"/>
<line x1="188.56" y1="312.1" x2="188.56" y2="314.1" stroke="#444" stroke-width="0.85"/>
<line x1="192.27" y1="312.1" x2="192.27" y2="314.1" stroke="#444" stroke-width="0.85"/>
<line x1="195.3" y1="312.1" x2="195.3" y2="314.1" stroke="#444" stroke-width="0.85"/>
<line x1="197.87" y1="312.1" x2="197.87" y2="314.1" stroke="#444" stroke-width="0.85"/>
<line x1="200.09" y1="312.1" x2="200.09" y2="314.1" stroke="#444" stroke-width="0.85"/>
<line x1="202.05" y1="312.1" x2="202.05" y2="314.1" stroke="#444" stroke-width="0.85"/>
<line x1="203.8" y1="312.1" x2="203.8" y2="315.1" stroke="#444" stroke-width="0.9"/>
<text x="204.1" y="324.5" font-size="7.4" text-anchor="middle" fill="#222">10<tspan font-size="4.5" dy="-3.4">20</tspan></text>
<line x1="215.33" y1="312.1" x2="215.33" y2="314.1" stroke="#444" stroke-width="0.85"/>
<line x1="222.07" y1="312.1" x2="222.07" y2="314.1" stroke="#444" stroke-width="0.85"/>
<text x="128.4" y="337.5" font-size="9.2" text-anchor="middle" fill="#222" textLength="64" lengthAdjust="spacingAndGlyphs">Compute (6<tspan font-style="italic">ND</tspan>)</text>
<text transform="translate(7.3,251.65) rotate(-90)" font-size="9.2" text-anchor="middle" fill="#222" textLength="18" lengthAdjust="spacingAndGlyphs">Loss</text>
<path d="M39,198.16 L40.01,199.71 L41.02,201.25 L42.03,202.79 L43.04,204.33 L44.05,205.87 L45.05,207.42 L46.06,208.96 L47.07,210.5 L48.08,212.04 L49.09,213.58 L50.1,215.13" fill="none" stroke="#dcc4a2" stroke-width="2.1" stroke-linecap="round"/>
<circle cx="39" cy="198.7" r="2.15" fill="#dcc4a2"/>
<circle cx="44.2" cy="205.1" r="2.15" fill="#dcc4a2"/>
<circle cx="50.1" cy="215.6" r="2.15" fill="#dcc4a2"/>
<path d="M79.9,226.82 L82.58,230.18 L85.26,233.44 L87.95,236.62 L90.63,239.71 L93.31,242.71 L95.99,245.62 L98.67,248.44 L101.35,251.17 L104.04,253.81 L106.72,256.37 L109.4,258.83" fill="none" stroke="#8592b3" stroke-width="2.1" stroke-linecap="round"/>
<circle cx="79.9" cy="228.7" r="2.15" fill="#8592b3"/>
<circle cx="86.3" cy="232.7" r="2.15" fill="#8592b3"/>
<circle cx="91.1" cy="241.2" r="2.15" fill="#8592b3"/>
<circle cx="97.8" cy="248.8" r="2.15" fill="#8592b3"/>
<circle cx="102.7" cy="250" r="2.15" fill="#8592b3"/>
<circle cx="109.4" cy="258.8" r="2.15" fill="#8592b3"/>
<path d="M119.7,257.7 L122.42,260.19 L125.14,262.59 L127.85,264.9 L130.57,267.13 L133.29,269.27 L136.01,271.33 L138.73,273.3 L141.45,275.18 L144.16,276.98 L146.88,278.7 L149.6,280.32" fill="none" stroke="#9fc79d" stroke-width="2.1" stroke-linecap="round"/>
<circle cx="119.7" cy="258.8" r="2.15" fill="#9fc79d"/>
<circle cx="126.4" cy="266" r="2.15" fill="#9fc79d"/>
<circle cx="131.6" cy="269.3" r="2.15" fill="#9fc79d"/>
<circle cx="138.2" cy="273.6" r="2.15" fill="#9fc79d"/>
<circle cx="143" cy="278.6" r="2.15" fill="#9fc79d"/>
<circle cx="149.6" cy="284.7" r="2.15" fill="#9fc79d"/>
<path d="M147.7,273.3 L150.37,275.32 L153.05,277.3 L155.72,279.22 L158.39,281.09 L161.06,282.91 L163.74,284.68 L166.41,286.39 L169.08,288.06 L171.75,289.67 L174.43,291.24 L177.1,292.75" fill="none" stroke="#e5abad" stroke-width="2.1" stroke-linecap="round"/>
<circle cx="147.7" cy="271.9" r="2.15" fill="#e5abad"/>
<circle cx="154.8" cy="277.6" r="2.15" fill="#e5abad"/>
<circle cx="159.1" cy="282.2" r="2.15" fill="#e5abad"/>
<circle cx="165.8" cy="287.3" r="2.15" fill="#e5abad"/>
<circle cx="170.5" cy="290.1" r="2.15" fill="#e5abad"/>
<circle cx="177.1" cy="293.7" r="2.15" fill="#e5abad"/>
<path d="M169.8,284.41 L172.48,285.89 L175.16,287.37 L177.85,288.84 L180.53,290.32 L183.21,291.8 L185.89,293.28 L188.57,294.76 L191.25,296.24 L193.94,297.71 L196.62,299.19 L199.3,300.67" fill="none" stroke="#c9b59e" stroke-width="2.1" stroke-linecap="round"/>
<circle cx="169.8" cy="284.3" r="2.15" fill="#c9b59e"/>
<circle cx="176.6" cy="288.5" r="2.15" fill="#c9b59e"/>
<circle cx="181.2" cy="293.1" r="2.15" fill="#c9b59e"/>
<circle cx="187.5" cy="295.6" r="2.15" fill="#c9b59e"/>
<circle cx="192.5" cy="298" r="2.15" fill="#c9b59e"/>
<circle cx="199.3" cy="300.3" r="2.15" fill="#c9b59e"/>
<path d="M188.1,292.31 L190.8,293.73 L193.5,295.1 L196.2,296.43 L198.9,297.71 L201.6,298.94 L204.3,300.13 L207,301.27 L209.7,302.36 L212.4,303.41 L215.1,304.41 L217.8,305.36" fill="none" stroke="#8b5bc9" stroke-width="2.1" stroke-linecap="round"/>
<circle cx="188.1" cy="290.8" r="2.15" fill="#8b5bc9"/>
<circle cx="194.8" cy="295.6" r="2.15" fill="#8b5bc9"/>
<circle cx="199.5" cy="297.5" r="2.15" fill="#8b5bc9"/>
<circle cx="205.9" cy="300" r="2.15" fill="#8b5bc9"/>
<circle cx="210.9" cy="301.4" r="2.15" fill="#8b5bc9"/>
<circle cx="217.8" cy="303" r="2.15" fill="#8b5bc9"/>
<rect x="30" y="191.2" width="196.5" height="120.9" fill="none" stroke="#707070" stroke-width="0.85"/>
<text x="356.1" y="186.8" font-size="9" text-anchor="middle" font-weight="normal" font-style="normal" fill="#222" textLength="52.4" lengthAdjust="spacingAndGlyphs">HUMANEVAL</text>
<line x1="254.7" y1="191.3" x2="257.7" y2="191.3" stroke="#444" stroke-width="0.9"/>
<text x="251.6" y="193.95" font-size="8.05" text-anchor="end" font-weight="normal" font-style="normal" fill="#222" textLength="10.49" lengthAdjust="spacingAndGlyphs">0.7</text>
<line x1="254.7" y1="212.3" x2="257.7" y2="212.3" stroke="#444" stroke-width="0.9"/>
<text x="251.6" y="214.95" font-size="8.05" text-anchor="end" font-weight="normal" font-style="normal" fill="#222" textLength="10.49" lengthAdjust="spacingAndGlyphs">0.6</text>
<line x1="254.7" y1="233.3" x2="257.7" y2="233.3" stroke="#444" stroke-width="0.9"/>
<text x="251.6" y="235.95" font-size="8.05" text-anchor="end" font-weight="normal" font-style="normal" fill="#222" textLength="10.49" lengthAdjust="spacingAndGlyphs">0.5</text>
<line x1="254.7" y1="254.2" x2="257.7" y2="254.2" stroke="#444" stroke-width="0.9"/>
<text x="251.6" y="256.85" font-size="8.05" text-anchor="end" font-weight="normal" font-style="normal" fill="#222" textLength="10.49" lengthAdjust="spacingAndGlyphs">0.4</text>
<line x1="254.7" y1="275.1" x2="257.7" y2="275.1" stroke="#444" stroke-width="0.9"/>
<text x="251.6" y="277.75" font-size="8.05" text-anchor="end" font-weight="normal" font-style="normal" fill="#222" textLength="10.49" lengthAdjust="spacingAndGlyphs">0.3</text>
<line x1="254.7" y1="295.9" x2="257.7" y2="295.9" stroke="#444" stroke-width="0.9"/>
<text x="251.6" y="298.55" font-size="8.05" text-anchor="end" font-weight="normal" font-style="normal" fill="#222" textLength="10.49" lengthAdjust="spacingAndGlyphs">0.2</text>
<line x1="258.13" y1="312.1" x2="258.13" y2="314.1" stroke="#444" stroke-width="0.85"/>
<line x1="262.9" y1="312.1" x2="262.9" y2="314.1" stroke="#444" stroke-width="0.85"/>
<line x1="266.6" y1="312.1" x2="266.6" y2="314.1" stroke="#444" stroke-width="0.85"/>
<line x1="269.63" y1="312.1" x2="269.63" y2="314.1" stroke="#444" stroke-width="0.85"/>
<line x1="272.18" y1="312.1" x2="272.18" y2="314.1" stroke="#444" stroke-width="0.85"/>
<line x1="274.4" y1="312.1" x2="274.4" y2="314.1" stroke="#444" stroke-width="0.85"/>
<line x1="276.35" y1="312.1" x2="276.35" y2="314.1" stroke="#444" stroke-width="0.85"/>
<line x1="278.1" y1="312.1" x2="278.1" y2="315.1" stroke="#444" stroke-width="0.9"/>
<text x="278.4" y="324.5" font-size="7.4" text-anchor="middle" fill="#222">10<tspan font-size="4.5" dy="-3.4">16</tspan></text>
<line x1="289.6" y1="312.1" x2="289.6" y2="314.1" stroke="#444" stroke-width="0.85"/>
<line x1="296.33" y1="312.1" x2="296.33" y2="314.1" stroke="#444" stroke-width="0.85"/>
<line x1="301.1" y1="312.1" x2="301.1" y2="314.1" stroke="#444" stroke-width="0.85"/>
<line x1="304.8" y1="312.1" x2="304.8" y2="314.1" stroke="#444" stroke-width="0.85"/>
<line x1="307.83" y1="312.1" x2="307.83" y2="314.1" stroke="#444" stroke-width="0.85"/>
<line x1="310.38" y1="312.1" x2="310.38" y2="314.1" stroke="#444" stroke-width="0.85"/>
<line x1="312.6" y1="312.1" x2="312.6" y2="314.1" stroke="#444" stroke-width="0.85"/>
<line x1="314.55" y1="312.1" x2="314.55" y2="314.1" stroke="#444" stroke-width="0.85"/>
<line x1="316.3" y1="312.1" x2="316.3" y2="315.1" stroke="#444" stroke-width="0.9"/>
<text x="316.6" y="324.5" font-size="7.4" text-anchor="middle" fill="#222">10<tspan font-size="4.5" dy="-3.4">17</tspan></text>
<line x1="327.8" y1="312.1" x2="327.8" y2="314.1" stroke="#444" stroke-width="0.85"/>
<line x1="334.53" y1="312.1" x2="334.53" y2="314.1" stroke="#444" stroke-width="0.85"/>
<line x1="339.3" y1="312.1" x2="339.3" y2="314.1" stroke="#444" stroke-width="0.85"/>
<line x1="343" y1="312.1" x2="343" y2="314.1" stroke="#444" stroke-width="0.85"/>
<line x1="346.03" y1="312.1" x2="346.03" y2="314.1" stroke="#444" stroke-width="0.85"/>
<line x1="348.58" y1="312.1" x2="348.58" y2="314.1" stroke="#444" stroke-width="0.85"/>
<line x1="350.8" y1="312.1" x2="350.8" y2="314.1" stroke="#444" stroke-width="0.85"/>
<line x1="352.75" y1="312.1" x2="352.75" y2="314.1" stroke="#444" stroke-width="0.85"/>
<line x1="354.5" y1="312.1" x2="354.5" y2="315.1" stroke="#444" stroke-width="0.9"/>
<text x="354.8" y="324.5" font-size="7.4" text-anchor="middle" fill="#222">10<tspan font-size="4.5" dy="-3.4">18</tspan></text>
<line x1="366" y1="312.1" x2="366" y2="314.1" stroke="#444" stroke-width="0.85"/>
<line x1="372.73" y1="312.1" x2="372.73" y2="314.1" stroke="#444" stroke-width="0.85"/>
<line x1="377.5" y1="312.1" x2="377.5" y2="314.1" stroke="#444" stroke-width="0.85"/>
<line x1="381.2" y1="312.1" x2="381.2" y2="314.1" stroke="#444" stroke-width="0.85"/>
<line x1="384.23" y1="312.1" x2="384.23" y2="314.1" stroke="#444" stroke-width="0.85"/>
<line x1="386.78" y1="312.1" x2="386.78" y2="314.1" stroke="#444" stroke-width="0.85"/>
<line x1="389" y1="312.1" x2="389" y2="314.1" stroke="#444" stroke-width="0.85"/>
<line x1="390.95" y1="312.1" x2="390.95" y2="314.1" stroke="#444" stroke-width="0.85"/>
<line x1="392.7" y1="312.1" x2="392.7" y2="315.1" stroke="#444" stroke-width="0.9"/>
<text x="393" y="324.5" font-size="7.4" text-anchor="middle" fill="#222">10<tspan font-size="4.5" dy="-3.4">19</tspan></text>
<line x1="404.2" y1="312.1" x2="404.2" y2="314.1" stroke="#444" stroke-width="0.85"/>
<line x1="410.93" y1="312.1" x2="410.93" y2="314.1" stroke="#444" stroke-width="0.85"/>
<line x1="415.7" y1="312.1" x2="415.7" y2="314.1" stroke="#444" stroke-width="0.85"/>
<line x1="419.4" y1="312.1" x2="419.4" y2="314.1" stroke="#444" stroke-width="0.85"/>
<line x1="422.43" y1="312.1" x2="422.43" y2="314.1" stroke="#444" stroke-width="0.85"/>
<line x1="424.98" y1="312.1" x2="424.98" y2="314.1" stroke="#444" stroke-width="0.85"/>
<line x1="427.2" y1="312.1" x2="427.2" y2="314.1" stroke="#444" stroke-width="0.85"/>
<line x1="429.15" y1="312.1" x2="429.15" y2="314.1" stroke="#444" stroke-width="0.85"/>
<line x1="430.9" y1="312.1" x2="430.9" y2="315.1" stroke="#444" stroke-width="0.9"/>
<text x="431.2" y="324.5" font-size="7.4" text-anchor="middle" fill="#222">10<tspan font-size="4.5" dy="-3.4">20</tspan></text>
<line x1="442.4" y1="312.1" x2="442.4" y2="314.1" stroke="#444" stroke-width="0.85"/>
<line x1="449.13" y1="312.1" x2="449.13" y2="314.1" stroke="#444" stroke-width="0.85"/>
<line x1="453.9" y1="312.1" x2="453.9" y2="314.1" stroke="#444" stroke-width="0.85"/>
<text x="352.6" y="337.5" font-size="9.2" text-anchor="middle" fill="#222" textLength="64" lengthAdjust="spacingAndGlyphs">Compute (6<tspan font-style="italic">ND</tspan>)</text>
<path d="M266.8,200.7 L267.84,202.82 L268.87,204.94 L269.91,207.05 L270.95,209.17 L271.98,211.29 L273.02,213.41 L274.05,215.53 L275.09,217.65 L276.13,219.76 L277.16,221.88 L278.2,224" fill="none" stroke="#dcc4a2" stroke-width="2.1" stroke-linecap="round"/>
<circle cx="266.8" cy="201.2" r="2.15" fill="#dcc4a2"/>
<circle cx="271.7" cy="211.3" r="2.15" fill="#dcc4a2"/>
<circle cx="278.2" cy="220.8" r="2.15" fill="#dcc4a2"/>
<path d="M307.8,235.2 L310.48,238.85 L313.16,242.38 L315.85,245.77 L318.53,249.03 L321.21,252.17 L323.89,255.17 L326.57,258.04 L329.25,260.79 L331.94,263.4 L334.62,265.88 L337.3,268.23" fill="none" stroke="#8592b3" stroke-width="2.1" stroke-linecap="round"/>
<circle cx="307.8" cy="237.9" r="2.15" fill="#8592b3"/>
<circle cx="314.5" cy="245.7" r="2.15" fill="#8592b3"/>
<circle cx="319" cy="252.8" r="2.15" fill="#8592b3"/>
<circle cx="326" cy="258.6" r="2.15" fill="#8592b3"/>
<circle cx="330.9" cy="262.3" r="2.15" fill="#8592b3"/>
<circle cx="337.3" cy="268.4" r="2.15" fill="#8592b3"/>
<path d="M348,267.2 L350.69,269.33 L353.38,271.34 L356.07,273.22 L358.76,274.97 L361.45,276.59 L364.15,278.08 L366.84,279.45 L369.53,280.69 L372.22,281.8 L374.91,282.78 L377.6,283.63" fill="none" stroke="#9fc79d" stroke-width="2.1" stroke-linecap="round"/>
<circle cx="348" cy="267" r="2.15" fill="#9fc79d"/>
<circle cx="354.7" cy="271.7" r="2.15" fill="#9fc79d"/>
<circle cx="359.4" cy="274.9" r="2.15" fill="#9fc79d"/>
<circle cx="365.8" cy="279.9" r="2.15" fill="#9fc79d"/>
<circle cx="370.8" cy="281.6" r="2.15" fill="#9fc79d"/>
<circle cx="377.6" cy="285" r="2.15" fill="#9fc79d"/>
<path d="M375.8,279.9 L378.46,281.4 L381.13,282.82 L383.79,284.17 L386.45,285.44 L389.12,286.63 L391.78,287.74 L394.45,288.78 L397.11,289.74 L399.77,290.63 L402.44,291.44 L405.1,292.17" fill="none" stroke="#e5abad" stroke-width="2.1" stroke-linecap="round"/>
<circle cx="375.8" cy="278.4" r="2.15" fill="#e5abad"/>
<circle cx="382.2" cy="282.3" r="2.15" fill="#e5abad"/>
<circle cx="387.2" cy="285.3" r="2.15" fill="#e5abad"/>
<circle cx="393.6" cy="287.6" r="2.15" fill="#e5abad"/>
<circle cx="398.6" cy="290.8" r="2.15" fill="#e5abad"/>
<circle cx="405.1" cy="292.8" r="2.15" fill="#e5abad"/>
<path d="M397.8,287.67 L400.48,288.59 L403.16,289.51 L405.85,290.43 L408.53,291.35 L411.21,292.27 L413.89,293.19 L416.57,294.11 L419.25,295.03 L421.94,295.95 L424.62,296.87 L427.3,297.79" fill="none" stroke="#c9b59e" stroke-width="2.1" stroke-linecap="round"/>
<circle cx="397.8" cy="286.4" r="2.15" fill="#c9b59e"/>
<circle cx="404.6" cy="290.3" r="2.15" fill="#c9b59e"/>
<circle cx="409.2" cy="291.8" r="2.15" fill="#c9b59e"/>
<circle cx="415.6" cy="295.1" r="2.15" fill="#c9b59e"/>
<circle cx="420.5" cy="297.5" r="2.15" fill="#c9b59e"/>
<circle cx="427.3" cy="298.5" r="2.15" fill="#c9b59e"/>
<path d="M415.9,293.9 L418.6,294.63 L421.3,295.34 L424,296.04 L426.7,296.71 L429.4,297.36 L432.1,298 L434.8,298.61 L437.5,299.21 L440.2,299.79 L442.9,300.34 L445.6,300.88" fill="none" stroke="#8b5bc9" stroke-width="2.1" stroke-linecap="round"/>
<circle cx="415.9" cy="291.4" r="2.15" fill="#8b5bc9"/>
<circle cx="422.5" cy="294.3" r="2.15" fill="#8b5bc9"/>
<circle cx="427.3" cy="296.4" r="2.15" fill="#8b5bc9"/>
<circle cx="433.9" cy="299.1" r="2.15" fill="#8b5bc9"/>
<circle cx="438.8" cy="300.1" r="2.15" fill="#8b5bc9"/>
<circle cx="445.6" cy="302.2" r="2.15" fill="#8b5bc9"/>
<rect x="257.7" y="191.2" width="196.8" height="120.9" fill="none" stroke="#707070" stroke-width="0.85"/>
<text x="586.5" y="186.8" font-size="9" text-anchor="middle" font-weight="normal" font-style="normal" fill="#222" textLength="39" lengthAdjust="spacingAndGlyphs">AVERAGE</text>
<line x1="485.6" y1="196.3" x2="488.6" y2="196.3" stroke="#444" stroke-width="0.9"/>
<text x="482.5" y="198.95" font-size="8.05" text-anchor="end" font-weight="normal" font-style="normal" fill="#222" textLength="10.49" lengthAdjust="spacingAndGlyphs">0.9</text>
<line x1="485.6" y1="214.2" x2="488.6" y2="214.2" stroke="#444" stroke-width="0.9"/>
<text x="482.5" y="216.85" font-size="8.05" text-anchor="end" font-weight="normal" font-style="normal" fill="#222" textLength="10.49" lengthAdjust="spacingAndGlyphs">0.8</text>
<line x1="485.6" y1="232" x2="488.6" y2="232" stroke="#444" stroke-width="0.9"/>
<text x="482.5" y="234.65" font-size="8.05" text-anchor="end" font-weight="normal" font-style="normal" fill="#222" textLength="10.49" lengthAdjust="spacingAndGlyphs">0.7</text>
<line x1="485.6" y1="249.8" x2="488.6" y2="249.8" stroke="#444" stroke-width="0.9"/>
<text x="482.5" y="252.45" font-size="8.05" text-anchor="end" font-weight="normal" font-style="normal" fill="#222" textLength="10.49" lengthAdjust="spacingAndGlyphs">0.6</text>
<line x1="485.6" y1="267.6" x2="488.6" y2="267.6" stroke="#444" stroke-width="0.9"/>
<text x="482.5" y="270.25" font-size="8.05" text-anchor="end" font-weight="normal" font-style="normal" fill="#222" textLength="10.49" lengthAdjust="spacingAndGlyphs">0.5</text>
<line x1="485.6" y1="285.4" x2="488.6" y2="285.4" stroke="#444" stroke-width="0.9"/>
<text x="482.5" y="288.05" font-size="8.05" text-anchor="end" font-weight="normal" font-style="normal" fill="#222" textLength="10.49" lengthAdjust="spacingAndGlyphs">0.4</text>
<line x1="485.6" y1="303.2" x2="488.6" y2="303.2" stroke="#444" stroke-width="0.9"/>
<text x="482.5" y="305.85" font-size="8.05" text-anchor="end" font-weight="normal" font-style="normal" fill="#222" textLength="10.49" lengthAdjust="spacingAndGlyphs">0.3</text>
<line x1="493.14" y1="312.1" x2="493.14" y2="314.1" stroke="#444" stroke-width="0.85"/>
<line x1="496.83" y1="312.1" x2="496.83" y2="314.1" stroke="#444" stroke-width="0.85"/>
<line x1="499.85" y1="312.1" x2="499.85" y2="314.1" stroke="#444" stroke-width="0.85"/>
<line x1="502.4" y1="312.1" x2="502.4" y2="314.1" stroke="#444" stroke-width="0.85"/>
<line x1="504.61" y1="312.1" x2="504.61" y2="314.1" stroke="#444" stroke-width="0.85"/>
<line x1="506.56" y1="312.1" x2="506.56" y2="314.1" stroke="#444" stroke-width="0.85"/>
<line x1="508.3" y1="312.1" x2="508.3" y2="315.1" stroke="#444" stroke-width="0.9"/>
<text x="508.6" y="324.5" font-size="7.4" text-anchor="middle" fill="#222">10<tspan font-size="4.5" dy="-3.4">16</tspan></text>
<line x1="519.77" y1="312.1" x2="519.77" y2="314.1" stroke="#444" stroke-width="0.85"/>
<line x1="526.48" y1="312.1" x2="526.48" y2="314.1" stroke="#444" stroke-width="0.85"/>
<line x1="531.24" y1="312.1" x2="531.24" y2="314.1" stroke="#444" stroke-width="0.85"/>
<line x1="534.93" y1="312.1" x2="534.93" y2="314.1" stroke="#444" stroke-width="0.85"/>
<line x1="537.95" y1="312.1" x2="537.95" y2="314.1" stroke="#444" stroke-width="0.85"/>
<line x1="540.5" y1="312.1" x2="540.5" y2="314.1" stroke="#444" stroke-width="0.85"/>
<line x1="542.71" y1="312.1" x2="542.71" y2="314.1" stroke="#444" stroke-width="0.85"/>
<line x1="544.66" y1="312.1" x2="544.66" y2="314.1" stroke="#444" stroke-width="0.85"/>
<line x1="546.4" y1="312.1" x2="546.4" y2="315.1" stroke="#444" stroke-width="0.9"/>
<text x="546.7" y="324.5" font-size="7.4" text-anchor="middle" fill="#222">10<tspan font-size="4.5" dy="-3.4">17</tspan></text>
<line x1="557.87" y1="312.1" x2="557.87" y2="314.1" stroke="#444" stroke-width="0.85"/>
<line x1="564.58" y1="312.1" x2="564.58" y2="314.1" stroke="#444" stroke-width="0.85"/>
<line x1="569.34" y1="312.1" x2="569.34" y2="314.1" stroke="#444" stroke-width="0.85"/>
<line x1="573.03" y1="312.1" x2="573.03" y2="314.1" stroke="#444" stroke-width="0.85"/>
<line x1="576.05" y1="312.1" x2="576.05" y2="314.1" stroke="#444" stroke-width="0.85"/>
<line x1="578.6" y1="312.1" x2="578.6" y2="314.1" stroke="#444" stroke-width="0.85"/>
<line x1="580.81" y1="312.1" x2="580.81" y2="314.1" stroke="#444" stroke-width="0.85"/>
<line x1="582.76" y1="312.1" x2="582.76" y2="314.1" stroke="#444" stroke-width="0.85"/>
<line x1="584.5" y1="312.1" x2="584.5" y2="315.1" stroke="#444" stroke-width="0.9"/>
<text x="584.8" y="324.5" font-size="7.4" text-anchor="middle" fill="#222">10<tspan font-size="4.5" dy="-3.4">18</tspan></text>
<line x1="595.97" y1="312.1" x2="595.97" y2="314.1" stroke="#444" stroke-width="0.85"/>
<line x1="602.68" y1="312.1" x2="602.68" y2="314.1" stroke="#444" stroke-width="0.85"/>
<line x1="607.44" y1="312.1" x2="607.44" y2="314.1" stroke="#444" stroke-width="0.85"/>
<line x1="611.13" y1="312.1" x2="611.13" y2="314.1" stroke="#444" stroke-width="0.85"/>
<line x1="614.15" y1="312.1" x2="614.15" y2="314.1" stroke="#444" stroke-width="0.85"/>
<line x1="616.7" y1="312.1" x2="616.7" y2="314.1" stroke="#444" stroke-width="0.85"/>
<line x1="618.91" y1="312.1" x2="618.91" y2="314.1" stroke="#444" stroke-width="0.85"/>
<line x1="620.86" y1="312.1" x2="620.86" y2="314.1" stroke="#444" stroke-width="0.85"/>
<line x1="622.6" y1="312.1" x2="622.6" y2="315.1" stroke="#444" stroke-width="0.9"/>
<text x="622.9" y="324.5" font-size="7.4" text-anchor="middle" fill="#222">10<tspan font-size="4.5" dy="-3.4">19</tspan></text>
<line x1="634.07" y1="312.1" x2="634.07" y2="314.1" stroke="#444" stroke-width="0.85"/>
<line x1="640.78" y1="312.1" x2="640.78" y2="314.1" stroke="#444" stroke-width="0.85"/>
<line x1="645.54" y1="312.1" x2="645.54" y2="314.1" stroke="#444" stroke-width="0.85"/>
<line x1="649.23" y1="312.1" x2="649.23" y2="314.1" stroke="#444" stroke-width="0.85"/>
<line x1="652.25" y1="312.1" x2="652.25" y2="314.1" stroke="#444" stroke-width="0.85"/>
<line x1="654.8" y1="312.1" x2="654.8" y2="314.1" stroke="#444" stroke-width="0.85"/>
<line x1="657.01" y1="312.1" x2="657.01" y2="314.1" stroke="#444" stroke-width="0.85"/>
<line x1="658.96" y1="312.1" x2="658.96" y2="314.1" stroke="#444" stroke-width="0.85"/>
<line x1="660.7" y1="312.1" x2="660.7" y2="315.1" stroke="#444" stroke-width="0.9"/>
<text x="661" y="324.5" font-size="7.4" text-anchor="middle" fill="#222">10<tspan font-size="4.5" dy="-3.4">20</tspan></text>
<line x1="672.17" y1="312.1" x2="672.17" y2="314.1" stroke="#444" stroke-width="0.85"/>
<line x1="678.88" y1="312.1" x2="678.88" y2="314.1" stroke="#444" stroke-width="0.85"/>
<line x1="683.64" y1="312.1" x2="683.64" y2="314.1" stroke="#444" stroke-width="0.85"/>
<text x="587.85" y="337.5" font-size="9.2" text-anchor="middle" fill="#222" textLength="64" lengthAdjust="spacingAndGlyphs">Compute (6<tspan font-style="italic">ND</tspan>)</text>
<path d="M496.8,199.9 L497.85,201.38 L498.91,202.85 L499.96,204.33 L501.02,205.8 L502.07,207.28 L503.13,208.75 L504.18,210.22 L505.24,211.7 L506.29,213.17 L507.35,214.65 L508.4,216.12" fill="none" stroke="#dcc4a2" stroke-width="2.1" stroke-linecap="round"/>
<circle cx="496.8" cy="200" r="2.15" fill="#dcc4a2"/>
<circle cx="502" cy="207" r="2.15" fill="#dcc4a2"/>
<circle cx="508.4" cy="216.2" r="2.15" fill="#dcc4a2"/>
<path d="M538.3,228 L540.99,231.57 L543.68,234.97 L546.37,238.22 L549.06,241.3 L551.75,244.23 L554.45,246.99 L557.14,249.59 L559.83,252.04 L562.52,254.32 L565.21,256.44 L567.9,258.4" fill="none" stroke="#8592b3" stroke-width="2.1" stroke-linecap="round"/>
<circle cx="538.3" cy="229.9" r="2.15" fill="#8592b3"/>
<circle cx="545" cy="236.3" r="2.15" fill="#8592b3"/>
<circle cx="549.6" cy="243.3" r="2.15" fill="#8592b3"/>
<circle cx="556.4" cy="248.9" r="2.15" fill="#8592b3"/>
<circle cx="561.1" cy="251.8" r="2.15" fill="#8592b3"/>
<circle cx="567.9" cy="258.3" r="2.15" fill="#8592b3"/>
<path d="M578.1,258.34 L580.85,260.8 L583.59,263.16 L586.34,265.45 L589.08,267.65 L591.83,269.77 L594.57,271.8 L597.32,273.75 L600.06,275.62 L602.81,277.41 L605.55,279.11 L608.3,280.72" fill="none" stroke="#9fc79d" stroke-width="2.1" stroke-linecap="round"/>
<circle cx="578.1" cy="258.1" r="2.15" fill="#9fc79d"/>
<circle cx="584.8" cy="264.8" r="2.15" fill="#9fc79d"/>
<circle cx="589.8" cy="268.2" r="2.15" fill="#9fc79d"/>
<circle cx="596.5" cy="272.7" r="2.15" fill="#9fc79d"/>
<circle cx="601.1" cy="276.4" r="2.15" fill="#9fc79d"/>
<circle cx="608.3" cy="280.8" r="2.15" fill="#9fc79d"/>
<path d="M605.8,271.27 L608.5,273.59 L611.2,275.79 L613.9,277.89 L616.6,279.89 L619.3,281.77 L622,283.55 L624.7,285.23 L627.4,286.79 L630.1,288.25 L632.8,289.6 L635.5,290.85" fill="none" stroke="#e5abad" stroke-width="2.1" stroke-linecap="round"/>
<circle cx="605.8" cy="271.5" r="2.15" fill="#e5abad"/>
<circle cx="612.8" cy="276.6" r="2.15" fill="#e5abad"/>
<circle cx="617.8" cy="280.6" r="2.15" fill="#e5abad"/>
<circle cx="624.1" cy="285.3" r="2.15" fill="#e5abad"/>
<circle cx="629.1" cy="287.8" r="2.15" fill="#e5abad"/>
<circle cx="635.5" cy="290.7" r="2.15" fill="#e5abad"/>
<path d="M628,283.31 L630.66,284.7 L633.33,286.09 L635.99,287.48 L638.65,288.86 L641.32,290.25 L643.98,291.64 L646.65,293.03 L649.31,294.42 L651.97,295.81 L654.64,297.2 L657.3,298.59" fill="none" stroke="#c9b59e" stroke-width="2.1" stroke-linecap="round"/>
<circle cx="628" cy="281.8" r="2.15" fill="#c9b59e"/>
<circle cx="634.8" cy="286.8" r="2.15" fill="#c9b59e"/>
<circle cx="639.5" cy="289.3" r="2.15" fill="#c9b59e"/>
<circle cx="645.9" cy="293.5" r="2.15" fill="#c9b59e"/>
<circle cx="650.9" cy="296" r="2.15" fill="#c9b59e"/>
<circle cx="657.3" cy="298.3" r="2.15" fill="#c9b59e"/>
<path d="M646.3,290.77 L648.98,291.91 L651.66,293.05 L654.35,294.2 L657.03,295.34 L659.71,296.48 L662.39,297.62 L665.07,298.76 L667.75,299.9 L670.44,301.05 L673.12,302.19 L675.8,303.33" fill="none" stroke="#8b5bc9" stroke-width="2.1" stroke-linecap="round"/>
<circle cx="646.3" cy="287.8" r="2.15" fill="#8b5bc9"/>
<circle cx="653" cy="292.2" r="2.15" fill="#8b5bc9"/>
<circle cx="657.8" cy="295.1" r="2.15" fill="#8b5bc9"/>
<circle cx="664.2" cy="298.5" r="2.15" fill="#8b5bc9"/>
<circle cx="668.9" cy="301" r="2.15" fill="#8b5bc9"/>
<circle cx="675.8" cy="303.5" r="2.15" fill="#8b5bc9"/>
<rect x="488.6" y="191.2" width="195.8" height="120.9" fill="none" stroke="#707070" stroke-width="0.85"/>
<line x1="630.1" y1="201.4" x2="639" y2="201.4" stroke="#dcc4a2" stroke-width="1.3"/>
<text x="642.9" y="204.2" font-size="8.6" text-anchor="start" font-weight="normal" font-style="normal" fill="#222" textLength="33.1" lengthAdjust="spacingAndGlyphs">0.005 B</text>
<line x1="630.1" y1="213.2" x2="639" y2="213.2" stroke="#8592b3" stroke-width="1.3"/>
<text x="642.9" y="216" font-size="8.6" text-anchor="start" font-weight="normal" font-style="normal" fill="#222" textLength="27.5" lengthAdjust="spacingAndGlyphs">0.03 B</text>
<line x1="630.1" y1="225" x2="639" y2="225" stroke="#9fc79d" stroke-width="1.3"/>
<text x="642.9" y="227.8" font-size="8.6" text-anchor="start" font-weight="normal" font-style="normal" fill="#222" textLength="19.7" lengthAdjust="spacingAndGlyphs">0.1 B</text>
<line x1="630.1" y1="236.8" x2="639" y2="236.8" stroke="#e5abad" stroke-width="1.3"/>
<text x="642.9" y="239.6" font-size="8.6" text-anchor="start" font-weight="normal" font-style="normal" fill="#222" textLength="21.2" lengthAdjust="spacingAndGlyphs">0.2 B</text>
<line x1="630.1" y1="248.6" x2="639" y2="248.6" stroke="#c9b59e" stroke-width="1.3"/>
<text x="642.9" y="251.4" font-size="8.6" text-anchor="start" font-weight="normal" font-style="normal" fill="#222" textLength="21.2" lengthAdjust="spacingAndGlyphs">0.5 B</text>
<line x1="630.1" y1="260.4" x2="639" y2="260.4" stroke="#8b5bc9" stroke-width="1.3"/>
<text x="642.9" y="263.2" font-size="8.6" text-anchor="start" font-weight="normal" font-style="normal" fill="#222" textLength="21.2" lengthAdjust="spacingAndGlyphs">0.8 B</text>
<text x="127.75" y="371.2" font-size="9" text-anchor="middle" font-weight="normal" font-style="normal" fill="#222" textLength="25.4" lengthAdjust="spacingAndGlyphs">MMLU</text>
<line x1="27" y1="401" x2="30" y2="401" stroke="#444" stroke-width="0.9"/>
<text x="23.9" y="403.65" font-size="8.05" text-anchor="end" font-weight="normal" font-style="normal" fill="#222">80</text>
<line x1="27" y1="431" x2="30" y2="431" stroke="#444" stroke-width="0.9"/>
<text x="23.9" y="433.65" font-size="8.05" text-anchor="end" font-weight="normal" font-style="normal" fill="#222">60</text>
<line x1="27" y1="461.1" x2="30" y2="461.1" stroke="#444" stroke-width="0.9"/>
<text x="23.9" y="463.75" font-size="8.05" text-anchor="end" font-weight="normal" font-style="normal" fill="#222">40</text>
<line x1="27" y1="491.1" x2="30" y2="491.1" stroke="#444" stroke-width="0.9"/>
<text x="23.9" y="493.75" font-size="8.05" text-anchor="end" font-weight="normal" font-style="normal" fill="#222">20</text>
<line x1="61.4" y1="495.2" x2="61.4" y2="498.2" stroke="#444" stroke-width="0.9"/>
<text x="61.4" y="507.75" font-size="8.05" text-anchor="middle" font-weight="normal" font-style="normal" fill="#222" textLength="15.28" lengthAdjust="spacingAndGlyphs">0.35</text>
<line x1="98.5" y1="495.2" x2="98.5" y2="498.2" stroke="#444" stroke-width="0.9"/>
<text x="98.5" y="507.75" font-size="8.05" text-anchor="middle" font-weight="normal" font-style="normal" fill="#222" textLength="15.28" lengthAdjust="spacingAndGlyphs">0.30</text>
<line x1="135.5" y1="495.2" x2="135.5" y2="498.2" stroke="#444" stroke-width="0.9"/>
<text x="135.5" y="507.75" font-size="8.05" text-anchor="middle" font-weight="normal" font-style="normal" fill="#222" textLength="15.28" lengthAdjust="spacingAndGlyphs">0.25</text>
<line x1="172.6" y1="495.2" x2="172.6" y2="498.2" stroke="#444" stroke-width="0.9"/>
<text x="172.6" y="507.75" font-size="8.05" text-anchor="middle" font-weight="normal" font-style="normal" fill="#222" textLength="15.28" lengthAdjust="spacingAndGlyphs">0.20</text>
<line x1="209.5" y1="495.2" x2="209.5" y2="498.2" stroke="#444" stroke-width="0.9"/>
<text x="209.5" y="507.75" font-size="8.05" text-anchor="middle" font-weight="normal" font-style="normal" fill="#222" textLength="15.28" lengthAdjust="spacingAndGlyphs">0.15</text>
<text x="127.4" y="520.3" font-size="9.2" text-anchor="middle" font-weight="normal" font-style="normal" fill="#222" textLength="17.8" lengthAdjust="spacingAndGlyphs">Loss</text>
<text transform="translate(7.3,435.35) rotate(-90)" font-size="9.2" text-anchor="middle" fill="#222" textLength="52" lengthAdjust="spacingAndGlyphs">Performance</text>
<circle cx="46.2" cy="483.7" r="2.9" fill="#e0a8a8"/>
<circle cx="75.1" cy="485.1" r="2.9" fill="#e0a8a8"/>
<circle cx="101.4" cy="483.3" r="2.9" fill="#e0a8a8"/>
<circle cx="112.9" cy="482.4" r="2.9" fill="#e0a8a8"/>
<circle cx="113.8" cy="473.8" r="2.9" fill="#e0a8a8"/>
<circle cx="146.5" cy="449.7" r="2.9" fill="#e0a8a8"/>
<circle cx="151.4" cy="444.2" r="2.9" fill="#e0a8a8"/>
<circle cx="165.7" cy="428.6" r="2.9" fill="#e0a8a8"/>
<circle cx="177.6" cy="425" r="2.9" fill="#e0a8a8"/>
<circle cx="178.5" cy="428.6" r="2.9" fill="#e0a8a8"/>
<path d="M196.4,406.55 L200.8,414.75 L192,414.75 Z" fill="#ff0000"/>
<path d="M209.6,391.25 L214,399.45 L205.2,399.45 Z" fill="#ff0000"/>
<clipPath id="c0"><rect x="30" y="375.5" width="195.5" height="119.7"/></clipPath>
<g clip-path="url(#c0)">
<path d="M30,489.32 L33.31,489.19 L36.63,489.04 L39.94,488.87 L43.25,488.68 L46.57,488.48 L49.88,488.25 L53.19,487.99 L56.51,487.71 L59.82,487.39 L63.14,487.04 L66.45,486.65 L69.76,486.21 L73.08,485.73 L76.39,485.2 L79.7,484.61 L83.02,483.96 L86.33,483.24 L89.64,482.45 L92.96,481.58 L96.27,480.62 L99.58,479.57 L102.9,478.42 L106.21,477.16 L109.53,475.79 L112.84,474.3 L116.15,472.68 L119.47,470.94 L122.78,469.06 L126.09,467.04 L129.41,464.88 L132.72,462.58 L136.03,460.14 L139.35,457.57 L142.66,454.86 L145.97,452.04 L149.29,449.1 L152.6,446.06 L155.92,442.93 L159.23,439.74 L162.54,436.49 L165.86,433.21 L169.17,429.92 L172.48,426.64 L175.8,423.38 L179.11,420.17 L182.42,417.03 L185.74,413.97 L189.05,411.01 L192.36,408.16 L195.68,405.42 L198.99,402.82 L202.31,400.35 L205.62,398.02 L208.93,395.83 L212.25,393.78 L215.56,391.87 L218.87,390.1 L222.19,388.45 L225.5,386.94" fill="none" stroke="#8e61c8" stroke-width="2.05"/>
</g>
<rect x="30" y="375.5" width="195.5" height="119.7" fill="none" stroke="#707070" stroke-width="0.85"/>
<text x="355.5" y="371.2" font-size="9" text-anchor="middle" font-weight="normal" font-style="normal" fill="#222" textLength="16.7" lengthAdjust="spacingAndGlyphs">BBH</text>
<line x1="254.7" y1="402.1" x2="257.7" y2="402.1" stroke="#444" stroke-width="0.9"/>
<text x="251.6" y="404.75" font-size="8.05" text-anchor="end" font-weight="normal" font-style="normal" fill="#222">80</text>
<line x1="254.7" y1="432.7" x2="257.7" y2="432.7" stroke="#444" stroke-width="0.9"/>
<text x="251.6" y="435.35" font-size="8.05" text-anchor="end" font-weight="normal" font-style="normal" fill="#222">60</text>
<line x1="254.7" y1="463.2" x2="257.7" y2="463.2" stroke="#444" stroke-width="0.9"/>
<text x="251.6" y="465.85" font-size="8.05" text-anchor="end" font-weight="normal" font-style="normal" fill="#222">40</text>
<line x1="254.7" y1="493.8" x2="257.7" y2="493.8" stroke="#444" stroke-width="0.9"/>
<text x="251.6" y="496.45" font-size="8.05" text-anchor="end" font-weight="normal" font-style="normal" fill="#222">20</text>
<line x1="268.6" y1="495.2" x2="268.6" y2="498.2" stroke="#444" stroke-width="0.9"/>
<text x="268.6" y="507.75" font-size="8.05" text-anchor="middle" font-weight="normal" font-style="normal" fill="#222" textLength="15.28" lengthAdjust="spacingAndGlyphs">0.25</text>
<line x1="315.6" y1="495.2" x2="315.6" y2="498.2" stroke="#444" stroke-width="0.9"/>
<text x="315.6" y="507.75" font-size="8.05" text-anchor="middle" font-weight="normal" font-style="normal" fill="#222" textLength="15.28" lengthAdjust="spacingAndGlyphs">0.20</text>
<line x1="362.4" y1="495.2" x2="362.4" y2="498.2" stroke="#444" stroke-width="0.9"/>
<text x="362.4" y="507.75" font-size="8.05" text-anchor="middle" font-weight="normal" font-style="normal" fill="#222" textLength="15.28" lengthAdjust="spacingAndGlyphs">0.15</text>
<line x1="409.1" y1="495.2" x2="409.1" y2="498.2" stroke="#444" stroke-width="0.9"/>
<text x="409.1" y="507.75" font-size="8.05" text-anchor="middle" font-weight="normal" font-style="normal" fill="#222" textLength="15.28" lengthAdjust="spacingAndGlyphs">0.10</text>
<text x="356.7" y="520.3" font-size="9.2" text-anchor="middle" font-weight="normal" font-style="normal" fill="#222" textLength="17.8" lengthAdjust="spacingAndGlyphs">Loss</text>
<circle cx="274" cy="485.4" r="2.9" fill="#e0a8a8"/>
<circle cx="303.6" cy="490.1" r="2.9" fill="#e0a8a8"/>
<circle cx="326.6" cy="482.6" r="2.9" fill="#e0a8a8"/>
<circle cx="339.9" cy="482.6" r="2.9" fill="#e0a8a8"/>
<circle cx="347.5" cy="481.5" r="2.9" fill="#e0a8a8"/>
<circle cx="381.4" cy="469.7" r="2.9" fill="#e0a8a8"/>
<circle cx="385.7" cy="466" r="2.9" fill="#e0a8a8"/>
<circle cx="400.5" cy="447.6" r="2.9" fill="#e0a8a8"/>
<circle cx="408.3" cy="445" r="2.9" fill="#e0a8a8"/>
<circle cx="410.8" cy="438.6" r="2.9" fill="#e0a8a8"/>
<path d="M427.2,414.3 L431.6,422.5 L422.8,422.5 Z" fill="#ff0000"/>
<path d="M437.9,395.2 L442.3,403.4 L433.5,403.4 Z" fill="#ff0000"/>
<clipPath id="c1"><rect x="257.7" y="375.5" width="195.6" height="119.7"/></clipPath>
<g clip-path="url(#c1)">
<path d="M257.7,486.12 L261.02,486.11 L264.33,486.1 L267.65,486.08 L270.96,486.06 L274.28,486.04 L277.59,486.01 L280.91,485.98 L284.22,485.94 L287.54,485.9 L290.85,485.86 L294.17,485.8 L297.48,485.74 L300.8,485.66 L304.11,485.57 L307.43,485.47 L310.74,485.35 L314.06,485.22 L317.37,485.06 L320.69,484.88 L324.01,484.66 L327.32,484.42 L330.64,484.13 L333.95,483.8 L337.27,483.42 L340.58,482.98 L343.9,482.47 L347.21,481.88 L350.53,481.21 L353.84,480.43 L357.16,479.55 L360.47,478.54 L363.79,477.38 L367.1,476.07 L370.42,474.58 L373.73,472.91 L377.05,471.02 L380.36,468.92 L383.68,466.58 L386.99,464 L390.31,461.17 L393.63,458.08 L396.94,454.75 L400.26,451.18 L403.57,447.4 L406.89,443.43 L410.2,439.3 L413.52,435.05 L416.83,430.74 L420.15,426.41 L423.46,422.1 L426.78,417.87 L430.09,413.76 L433.41,409.8 L436.72,406.04 L440.04,402.5 L443.35,399.2 L446.67,396.15 L449.98,393.34 L453.3,390.79" fill="none" stroke="#8e61c8" stroke-width="2.05"/>
</g>
<rect x="257.7" y="375.5" width="195.6" height="119.7" fill="none" stroke="#707070" stroke-width="0.85"/>
<text x="586.25" y="371.2" font-size="9" text-anchor="middle" font-weight="normal" font-style="normal" fill="#222" textLength="24" lengthAdjust="spacingAndGlyphs">MATH</text>
<line x1="485.6" y1="383.8" x2="488.6" y2="383.8" stroke="#444" stroke-width="0.9"/>
<text x="482.5" y="386.45" font-size="8.05" text-anchor="end" font-weight="normal" font-style="normal" fill="#222">80</text>
<line x1="485.6" y1="410.6" x2="488.6" y2="410.6" stroke="#444" stroke-width="0.9"/>
<text x="482.5" y="413.25" font-size="8.05" text-anchor="end" font-weight="normal" font-style="normal" fill="#222">60</text>
<line x1="485.6" y1="437.3" x2="488.6" y2="437.3" stroke="#444" stroke-width="0.9"/>
<text x="482.5" y="439.95" font-size="8.05" text-anchor="end" font-weight="normal" font-style="normal" fill="#222">40</text>
<line x1="485.6" y1="464" x2="488.6" y2="464" stroke="#444" stroke-width="0.9"/>
<text x="482.5" y="466.65" font-size="8.05" text-anchor="end" font-weight="normal" font-style="normal" fill="#222">20</text>
<line x1="485.6" y1="490.6" x2="488.6" y2="490.6" stroke="#444" stroke-width="0.9"/>
<text x="482.5" y="493.25" font-size="8.05" text-anchor="end" font-weight="normal" font-style="normal" fill="#222">0</text>
<line x1="490.1" y1="495.2" x2="490.1" y2="498.2" stroke="#444" stroke-width="0.9"/>
<text x="490.1" y="507.75" font-size="8.05" text-anchor="middle" font-weight="normal" font-style="normal" fill="#222" textLength="15.28" lengthAdjust="spacingAndGlyphs">0.45</text>
<line x1="521.5" y1="495.2" x2="521.5" y2="498.2" stroke="#444" stroke-width="0.9"/>
<text x="521.5" y="507.75" font-size="8.05" text-anchor="middle" font-weight="normal" font-style="normal" fill="#222" textLength="15.28" lengthAdjust="spacingAndGlyphs">0.40</text>
<line x1="552.8" y1="495.2" x2="552.8" y2="498.2" stroke="#444" stroke-width="0.9"/>
<text x="552.8" y="507.75" font-size="8.05" text-anchor="middle" font-weight="normal" font-style="normal" fill="#222" textLength="15.28" lengthAdjust="spacingAndGlyphs">0.35</text>
<line x1="583.8" y1="495.2" x2="583.8" y2="498.2" stroke="#444" stroke-width="0.9"/>
<text x="583.8" y="507.75" font-size="8.05" text-anchor="middle" font-weight="normal" font-style="normal" fill="#222" textLength="15.28" lengthAdjust="spacingAndGlyphs">0.30</text>
<line x1="614.9" y1="495.2" x2="614.9" y2="498.2" stroke="#444" stroke-width="0.9"/>
<text x="614.9" y="507.75" font-size="8.05" text-anchor="middle" font-weight="normal" font-style="normal" fill="#222" textLength="15.28" lengthAdjust="spacingAndGlyphs">0.25</text>
<line x1="646.2" y1="495.2" x2="646.2" y2="498.2" stroke="#444" stroke-width="0.9"/>
<text x="646.2" y="507.75" font-size="8.05" text-anchor="middle" font-weight="normal" font-style="normal" fill="#222" textLength="15.28" lengthAdjust="spacingAndGlyphs">0.20</text>
<line x1="677.4" y1="495.2" x2="677.4" y2="498.2" stroke="#444" stroke-width="0.9"/>
<text x="677.4" y="507.75" font-size="8.05" text-anchor="middle" font-weight="normal" font-style="normal" fill="#222" textLength="15.28" lengthAdjust="spacingAndGlyphs">0.15</text>
<text x="588.6" y="520.3" font-size="9.2" text-anchor="middle" font-weight="normal" font-style="normal" fill="#222" textLength="17.8" lengthAdjust="spacingAndGlyphs">Loss</text>
<circle cx="504.4" cy="488.4" r="2.9" fill="#e0a8a8"/>
<circle cx="534.1" cy="489.6" r="2.9" fill="#e0a8a8"/>
<circle cx="557.7" cy="486.9" r="2.9" fill="#e0a8a8"/>
<circle cx="576.4" cy="482.9" r="2.9" fill="#e0a8a8"/>
<circle cx="585.4" cy="482.5" r="2.9" fill="#e0a8a8"/>
<circle cx="609.3" cy="471.1" r="2.9" fill="#e0a8a8"/>
<circle cx="616.1" cy="467.9" r="2.9" fill="#e0a8a8"/>
<circle cx="627.9" cy="461.5" r="2.9" fill="#e0a8a8"/>
<circle cx="638.7" cy="438.9" r="2.9" fill="#e0a8a8"/>
<circle cx="644.4" cy="447.1" r="2.9" fill="#e0a8a8"/>
<path d="M655.2,427.3 L659.6,435.5 L650.8,435.5 Z" fill="#ff0000"/>
<path d="M667.7,416.4 L672.1,424.6 L663.3,424.6 Z" fill="#ff0000"/>
<clipPath id="c2"><rect x="488.6" y="375.5" width="195.3" height="119.7"/></clipPath>
<g clip-path="url(#c2)">
<path d="M488.6,489.59 L491.91,489.56 L495.22,489.53 L498.53,489.49 L501.84,489.44 L505.15,489.39 L508.46,489.33 L511.77,489.27 L515.08,489.2 L518.39,489.11 L521.7,489.02 L525.01,488.91 L528.32,488.79 L531.63,488.66 L534.94,488.51 L538.25,488.34 L541.56,488.14 L544.87,487.92 L548.18,487.68 L551.49,487.4 L554.8,487.09 L558.11,486.74 L561.42,486.35 L564.73,485.9 L568.04,485.41 L571.35,484.85 L574.66,484.23 L577.97,483.53 L581.28,482.75 L584.59,481.88 L587.91,480.9 L591.22,479.83 L594.53,478.63 L597.84,477.3 L601.15,475.84 L604.46,474.22 L607.77,472.45 L611.08,470.51 L614.39,468.39 L617.7,466.09 L621.01,463.61 L624.32,460.93 L627.63,458.07 L630.94,455.01 L634.25,451.78 L637.56,448.37 L640.87,444.81 L644.18,441.11 L647.49,437.29 L650.8,433.38 L654.11,429.4 L657.42,425.38 L660.73,421.35 L664.04,417.35 L667.35,413.39 L670.66,409.52 L673.97,405.76 L677.28,402.12 L680.59,398.63 L683.9,395.31" fill="none" stroke="#8e61c8" stroke-width="2.05"/>
</g>
<rect x="488.6" y="375.5" width="195.3" height="119.7" fill="none" stroke="#707070" stroke-width="0.85"/>
<text x="125" y="540.2" font-size="9" text-anchor="middle" font-weight="normal" font-style="normal" fill="#222" textLength="23" lengthAdjust="spacingAndGlyphs">MBPP</text>
<line x1="27" y1="547.3" x2="30" y2="547.3" stroke="#444" stroke-width="0.9"/>
<text x="23.9" y="549.95" font-size="8.05" text-anchor="end" font-weight="normal" font-style="normal" fill="#222">100</text>
<line x1="27" y1="569.9" x2="30" y2="569.9" stroke="#444" stroke-width="0.9"/>
<text x="23.9" y="572.55" font-size="8.05" text-anchor="end" font-weight="normal" font-style="normal" fill="#222">80</text>
<line x1="27" y1="592.4" x2="30" y2="592.4" stroke="#444" stroke-width="0.9"/>
<text x="23.9" y="595.05" font-size="8.05" text-anchor="end" font-weight="normal" font-style="normal" fill="#222">60</text>
<line x1="27" y1="614.9" x2="30" y2="614.9" stroke="#444" stroke-width="0.9"/>
<text x="23.9" y="617.55" font-size="8.05" text-anchor="end" font-weight="normal" font-style="normal" fill="#222">40</text>
<line x1="27" y1="637.5" x2="30" y2="637.5" stroke="#444" stroke-width="0.9"/>
<text x="23.9" y="640.15" font-size="8.05" text-anchor="end" font-weight="normal" font-style="normal" fill="#222">20</text>
<line x1="27" y1="660" x2="30" y2="660" stroke="#444" stroke-width="0.9"/>
<text x="23.9" y="662.65" font-size="8.05" text-anchor="end" font-weight="normal" font-style="normal" fill="#222">0</text>
<line x1="38.9" y1="664.3" x2="38.9" y2="667.3" stroke="#444" stroke-width="0.9"/>
<text x="38.9" y="676.85" font-size="8.05" text-anchor="middle" font-weight="normal" font-style="normal" fill="#222" textLength="15.28" lengthAdjust="spacingAndGlyphs">0.45</text>
<line x1="65.3" y1="664.3" x2="65.3" y2="667.3" stroke="#444" stroke-width="0.9"/>
<text x="65.3" y="676.85" font-size="8.05" text-anchor="middle" font-weight="normal" font-style="normal" fill="#222" textLength="15.28" lengthAdjust="spacingAndGlyphs">0.40</text>
<line x1="91.8" y1="664.3" x2="91.8" y2="667.3" stroke="#444" stroke-width="0.9"/>
<text x="91.8" y="676.85" font-size="8.05" text-anchor="middle" font-weight="normal" font-style="normal" fill="#222" textLength="15.28" lengthAdjust="spacingAndGlyphs">0.35</text>
<line x1="118.3" y1="664.3" x2="118.3" y2="667.3" stroke="#444" stroke-width="0.9"/>
<text x="118.3" y="676.85" font-size="8.05" text-anchor="middle" font-weight="normal" font-style="normal" fill="#222" textLength="15.28" lengthAdjust="spacingAndGlyphs">0.30</text>
<line x1="144.8" y1="664.3" x2="144.8" y2="667.3" stroke="#444" stroke-width="0.9"/>
<text x="144.8" y="676.85" font-size="8.05" text-anchor="middle" font-weight="normal" font-style="normal" fill="#222" textLength="15.28" lengthAdjust="spacingAndGlyphs">0.25</text>
<line x1="171.4" y1="664.3" x2="171.4" y2="667.3" stroke="#444" stroke-width="0.9"/>
<text x="171.4" y="676.85" font-size="8.05" text-anchor="middle" font-weight="normal" font-style="normal" fill="#222" textLength="15.28" lengthAdjust="spacingAndGlyphs">0.20</text>
<line x1="197.9" y1="664.3" x2="197.9" y2="667.3" stroke="#444" stroke-width="0.9"/>
<text x="197.9" y="676.85" font-size="8.05" text-anchor="middle" font-weight="normal" font-style="normal" fill="#222" textLength="15.28" lengthAdjust="spacingAndGlyphs">0.15</text>
<line x1="224.6" y1="664.3" x2="224.6" y2="667.3" stroke="#444" stroke-width="0.9"/>
<text x="224.6" y="676.85" font-size="8.05" text-anchor="middle" font-weight="normal" font-style="normal" fill="#222" textLength="15.28" lengthAdjust="spacingAndGlyphs">0.10</text>
<text x="127.35" y="689.4" font-size="9.2" text-anchor="middle" font-weight="normal" font-style="normal" fill="#222" textLength="17.8" lengthAdjust="spacingAndGlyphs">Loss</text>
<text transform="translate(7.3,604.4) rotate(-90)" font-size="9.2" text-anchor="middle" fill="#222" textLength="52" lengthAdjust="spacingAndGlyphs">Performance</text>
<circle cx="45.9" cy="654.1" r="2.9" fill="#e0a8a8"/>
<circle cx="68.5" cy="655.3" r="2.9" fill="#e0a8a8"/>
<circle cx="83.3" cy="649.1" r="2.9" fill="#e0a8a8"/>
<circle cx="97" cy="643.6" r="2.9" fill="#e0a8a8"/>
<circle cx="100.1" cy="634.3" r="2.9" fill="#e0a8a8"/>
<circle cx="122.5" cy="616.6" r="2.9" fill="#e0a8a8"/>
<circle cx="127.3" cy="610.2" r="2.9" fill="#e0a8a8"/>
<circle cx="145" cy="594.8" r="2.9" fill="#e0a8a8"/>
<circle cx="147.2" cy="598.7" r="2.9" fill="#e0a8a8"/>
<circle cx="157" cy="585" r="2.9" fill="#e0a8a8"/>
<path d="M182.7,566.9 L187.1,575.1 L178.3,575.1 Z" fill="#ff0000"/>
<path d="M209.4,558.4 L213.8,566.6 L205,566.6 Z" fill="#ff0000"/>
<clipPath id="c3"><rect x="30" y="544.5" width="195.5" height="119.8"/></clipPath>
<g clip-path="url(#c3)">
<path d="M30,657.92 L33.31,657.66 L36.63,657.38 L39.94,657.05 L43.25,656.69 L46.57,656.28 L49.88,655.82 L53.19,655.3 L56.51,654.73 L59.82,654.08 L63.14,653.36 L66.45,652.55 L69.76,651.66 L73.08,650.66 L76.39,649.55 L79.7,648.33 L83.02,646.98 L86.33,645.5 L89.64,643.87 L92.96,642.1 L96.27,640.16 L99.58,638.07 L102.9,635.8 L106.21,633.38 L109.53,630.79 L112.84,628.03 L116.15,625.13 L119.47,622.09 L122.78,618.91 L126.09,615.63 L129.41,612.26 L132.72,608.82 L136.03,605.34 L139.35,601.85 L142.66,598.37 L145.97,594.93 L149.29,591.54 L152.6,588.25 L155.92,585.06 L159.23,582 L162.54,579.07 L165.86,576.3 L169.17,573.69 L172.48,571.24 L175.8,568.95 L179.11,566.84 L182.42,564.88 L185.74,563.08 L189.05,561.44 L192.36,559.93 L195.68,558.57 L198.99,557.33 L202.31,556.21 L205.62,555.2 L208.93,554.29 L212.25,553.47 L215.56,552.74 L218.87,552.08 L222.19,551.49 L225.5,550.97" fill="none" stroke="#8e61c8" stroke-width="2.05"/>
</g>
<rect x="30" y="544.5" width="195.5" height="119.8" fill="none" stroke="#707070" stroke-width="0.85"/>
<text x="348.9" y="540.2" font-size="9" text-anchor="middle" font-weight="normal" font-style="normal" fill="#222" textLength="52.4" lengthAdjust="spacingAndGlyphs">HUMANEVAL</text>
<line x1="254.6" y1="561.3" x2="257.6" y2="561.3" stroke="#444" stroke-width="0.9"/>
<text x="251.5" y="563.95" font-size="8.05" text-anchor="end" font-weight="normal" font-style="normal" fill="#222">80</text>
<line x1="254.6" y1="585.8" x2="257.6" y2="585.8" stroke="#444" stroke-width="0.9"/>
<text x="251.5" y="588.45" font-size="8.05" text-anchor="end" font-weight="normal" font-style="normal" fill="#222">60</text>
<line x1="254.6" y1="610.2" x2="257.6" y2="610.2" stroke="#444" stroke-width="0.9"/>
<text x="251.5" y="612.85" font-size="8.05" text-anchor="end" font-weight="normal" font-style="normal" fill="#222">40</text>
<line x1="254.6" y1="634.6" x2="257.6" y2="634.6" stroke="#444" stroke-width="0.9"/>
<text x="251.5" y="637.25" font-size="8.05" text-anchor="end" font-weight="normal" font-style="normal" fill="#222">20</text>
<line x1="254.6" y1="658.9" x2="257.6" y2="658.9" stroke="#444" stroke-width="0.9"/>
<text x="251.5" y="661.55" font-size="8.05" text-anchor="end" font-weight="normal" font-style="normal" fill="#222">0</text>
<line x1="269.8" y1="664.3" x2="269.8" y2="667.3" stroke="#444" stroke-width="0.9"/>
<text x="269.8" y="676.85" font-size="8.05" text-anchor="middle" font-weight="normal" font-style="normal" fill="#222" textLength="15.28" lengthAdjust="spacingAndGlyphs">0.22</text>
<line x1="295.2" y1="664.3" x2="295.2" y2="667.3" stroke="#444" stroke-width="0.9"/>
<text x="295.2" y="676.85" font-size="8.05" text-anchor="middle" font-weight="normal" font-style="normal" fill="#222" textLength="15.28" lengthAdjust="spacingAndGlyphs">0.20</text>
<line x1="320.5" y1="664.3" x2="320.5" y2="667.3" stroke="#444" stroke-width="0.9"/>
<text x="320.5" y="676.85" font-size="8.05" text-anchor="middle" font-weight="normal" font-style="normal" fill="#222" textLength="15.28" lengthAdjust="spacingAndGlyphs">0.18</text>
<line x1="345.9" y1="664.3" x2="345.9" y2="667.3" stroke="#444" stroke-width="0.9"/>
<text x="345.9" y="676.85" font-size="8.05" text-anchor="middle" font-weight="normal" font-style="normal" fill="#222" textLength="15.28" lengthAdjust="spacingAndGlyphs">0.16</text>
<line x1="371.3" y1="664.3" x2="371.3" y2="667.3" stroke="#444" stroke-width="0.9"/>
<text x="371.3" y="676.85" font-size="8.05" text-anchor="middle" font-weight="normal" font-style="normal" fill="#222" textLength="15.28" lengthAdjust="spacingAndGlyphs">0.14</text>
<line x1="396.7" y1="664.3" x2="396.7" y2="667.3" stroke="#444" stroke-width="0.9"/>
<text x="396.7" y="676.85" font-size="8.05" text-anchor="middle" font-weight="normal" font-style="normal" fill="#222" textLength="15.28" lengthAdjust="spacingAndGlyphs">0.12</text>
<line x1="422.1" y1="664.3" x2="422.1" y2="667.3" stroke="#444" stroke-width="0.9"/>
<text x="422.1" y="676.85" font-size="8.05" text-anchor="middle" font-weight="normal" font-style="normal" fill="#222" textLength="15.28" lengthAdjust="spacingAndGlyphs">0.10</text>
<line x1="447.5" y1="664.3" x2="447.5" y2="667.3" stroke="#444" stroke-width="0.9"/>
<text x="447.5" y="676.85" font-size="8.05" text-anchor="middle" font-weight="normal" font-style="normal" fill="#222" textLength="15.28" lengthAdjust="spacingAndGlyphs">0.08</text>
<text x="354.2" y="689.4" font-size="9.2" text-anchor="middle" font-weight="normal" font-style="normal" fill="#222" textLength="17.8" lengthAdjust="spacingAndGlyphs">Loss</text>
<circle cx="274.1" cy="658" r="2.9" fill="#e0a8a8"/>
<circle cx="308.9" cy="658.9" r="2.9" fill="#e0a8a8"/>
<circle cx="332.8" cy="649.3" r="2.9" fill="#e0a8a8"/>
<circle cx="340.9" cy="644.3" r="2.9" fill="#e0a8a8"/>
<circle cx="345.3" cy="643.7" r="2.9" fill="#e0a8a8"/>
<circle cx="365.7" cy="620.4" r="2.9" fill="#e0a8a8"/>
<circle cx="371.5" cy="627" r="2.9" fill="#e0a8a8"/>
<circle cx="386.1" cy="600.2" r="2.9" fill="#e0a8a8"/>
<circle cx="403" cy="597" r="2.9" fill="#e0a8a8"/>
<circle cx="413.3" cy="593.7" r="2.9" fill="#e0a8a8"/>
<path d="M435.5,566.1 L439.9,574.3 L431.1,574.3 Z" fill="#ff0000"/>
<path d="M437.6,561.2 L442,569.4 L433.2,569.4 Z" fill="#ff0000"/>
<clipPath id="c4"><rect x="257.6" y="544.5" width="195.7" height="119.8"/></clipPath>
<g clip-path="url(#c4)">
<path d="M257.6,657.59 L260.92,657.43 L264.23,657.26 L267.55,657.06 L270.87,656.85 L274.18,656.61 L277.5,656.35 L280.82,656.06 L284.14,655.75 L287.45,655.4 L290.77,655.01 L294.09,654.59 L297.4,654.12 L300.72,653.61 L304.04,653.05 L307.35,652.43 L310.67,651.75 L313.99,651.01 L317.31,650.2 L320.62,649.32 L323.94,648.35 L327.26,647.3 L330.57,646.16 L333.89,644.92 L337.21,643.58 L340.52,642.13 L343.84,640.58 L347.16,638.9 L350.47,637.11 L353.79,635.19 L357.11,633.15 L360.43,630.99 L363.74,628.7 L367.06,626.3 L370.38,623.77 L373.69,621.13 L377.01,618.39 L380.33,615.55 L383.64,612.63 L386.96,609.64 L390.28,606.58 L393.59,603.49 L396.91,600.36 L400.23,597.22 L403.55,594.09 L406.86,590.98 L410.18,587.9 L413.5,584.88 L416.81,581.92 L420.13,579.05 L423.45,576.26 L426.76,573.58 L430.08,571 L433.4,568.54 L436.72,566.2 L440.03,563.98 L443.35,561.89 L446.67,559.92 L449.98,558.07 L453.3,556.35" fill="none" stroke="#8e61c8" stroke-width="2.05"/>
</g>
<rect x="257.6" y="544.5" width="195.7" height="119.8" fill="none" stroke="#707070" stroke-width="0.85"/>
<text x="586.2" y="540.2" font-size="9" text-anchor="middle" font-weight="normal" font-style="normal" fill="#222" textLength="39" lengthAdjust="spacingAndGlyphs">AVERAGE</text>
<line x1="485.5" y1="565" x2="488.5" y2="565" stroke="#444" stroke-width="0.9"/>
<text x="482.4" y="567.65" font-size="8.05" text-anchor="end" font-weight="normal" font-style="normal" fill="#222">80</text>
<line x1="485.5" y1="592.2" x2="488.5" y2="592.2" stroke="#444" stroke-width="0.9"/>
<text x="482.4" y="594.85" font-size="8.05" text-anchor="end" font-weight="normal" font-style="normal" fill="#222">60</text>
<line x1="485.5" y1="619.4" x2="488.5" y2="619.4" stroke="#444" stroke-width="0.9"/>
<text x="482.4" y="622.05" font-size="8.05" text-anchor="end" font-weight="normal" font-style="normal" fill="#222">40</text>
<line x1="485.5" y1="646.8" x2="488.5" y2="646.8" stroke="#444" stroke-width="0.9"/>
<text x="482.4" y="649.45" font-size="8.05" text-anchor="end" font-weight="normal" font-style="normal" fill="#222">20</text>
<line x1="498.5" y1="664.3" x2="498.5" y2="667.3" stroke="#444" stroke-width="0.9"/>
<text x="498.5" y="676.85" font-size="8.05" text-anchor="middle" font-weight="normal" font-style="normal" fill="#222" textLength="15.28" lengthAdjust="spacingAndGlyphs">0.35</text>
<line x1="535.4" y1="664.3" x2="535.4" y2="667.3" stroke="#444" stroke-width="0.9"/>
<text x="535.4" y="676.85" font-size="8.05" text-anchor="middle" font-weight="normal" font-style="normal" fill="#222" textLength="15.28" lengthAdjust="spacingAndGlyphs">0.30</text>
<line x1="572.3" y1="664.3" x2="572.3" y2="667.3" stroke="#444" stroke-width="0.9"/>
<text x="572.3" y="676.85" font-size="8.05" text-anchor="middle" font-weight="normal" font-style="normal" fill="#222" textLength="15.28" lengthAdjust="spacingAndGlyphs">0.25</text>
<line x1="609.2" y1="664.3" x2="609.2" y2="667.3" stroke="#444" stroke-width="0.9"/>
<text x="609.2" y="676.85" font-size="8.05" text-anchor="middle" font-weight="normal" font-style="normal" fill="#222" textLength="15.28" lengthAdjust="spacingAndGlyphs">0.20</text>
<line x1="646.1" y1="664.3" x2="646.1" y2="667.3" stroke="#444" stroke-width="0.9"/>
<text x="646.1" y="676.85" font-size="8.05" text-anchor="middle" font-weight="normal" font-style="normal" fill="#222" textLength="15.28" lengthAdjust="spacingAndGlyphs">0.15</text>
<text x="587.2" y="689.4" font-size="9.2" text-anchor="middle" font-weight="normal" font-style="normal" fill="#222" textLength="17.8" lengthAdjust="spacingAndGlyphs">Loss</text>
<circle cx="504.6" cy="655.2" r="2.9" fill="#e0a8a8"/>
<circle cx="533.3" cy="657.4" r="2.9" fill="#e0a8a8"/>
<circle cx="555.7" cy="652.4" r="2.9" fill="#e0a8a8"/>
<circle cx="569.8" cy="649.3" r="2.9" fill="#e0a8a8"/>
<circle cx="575.3" cy="645.9" r="2.9" fill="#e0a8a8"/>
<circle cx="603" cy="629.6" r="2.9" fill="#e0a8a8"/>
<circle cx="607.4" cy="624.8" r="2.9" fill="#e0a8a8"/>
<circle cx="622.2" cy="610" r="2.9" fill="#e0a8a8"/>
<circle cx="632" cy="604.1" r="2.9" fill="#e0a8a8"/>
<circle cx="636.7" cy="601.5" r="2.9" fill="#e0a8a8"/>
<path d="M653.2,580.1 L657.6,588.3 L648.8,588.3 Z" fill="#ff0000"/>
<path d="M667.2,567.9 L671.6,576.1 L662.8,576.1 Z" fill="#ff0000"/>
<clipPath id="c5"><rect x="488.5" y="544.5" width="195.4" height="119.8"/></clipPath>
<g clip-path="url(#c5)">
<path d="M488.5,659.31 L491.81,659.19 L495.12,659.04 L498.44,658.89 L501.75,658.71 L505.06,658.52 L508.37,658.31 L511.68,658.08 L514.99,657.82 L518.31,657.54 L521.62,657.22 L524.93,656.88 L528.24,656.5 L531.55,656.08 L534.87,655.62 L538.18,655.11 L541.49,654.56 L544.8,653.95 L548.11,653.28 L551.43,652.54 L554.74,651.74 L558.05,650.87 L561.36,649.91 L564.67,648.87 L567.98,647.74 L571.3,646.51 L574.61,645.18 L577.92,643.74 L581.23,642.19 L584.54,640.53 L587.86,638.74 L591.17,636.82 L594.48,634.78 L597.79,632.61 L601.1,630.3 L604.42,627.88 L607.73,625.32 L611.04,622.65 L614.35,619.86 L617.66,616.97 L620.97,613.98 L624.29,610.9 L627.6,607.75 L630.91,604.55 L634.22,601.31 L637.53,598.04 L640.85,594.76 L644.16,591.49 L647.47,588.25 L650.78,585.05 L654.09,581.91 L657.41,578.85 L660.72,575.87 L664.03,572.98 L667.34,570.2 L670.65,567.54 L673.96,565 L677.28,562.58 L680.59,560.29 L683.9,558.13" fill="none" stroke="#8e61c8" stroke-width="2.05"/>
</g>
<rect x="488.5" y="544.5" width="195.4" height="119.8" fill="none" stroke="#707070" stroke-width="0.85"/>
</svg></body></html>
